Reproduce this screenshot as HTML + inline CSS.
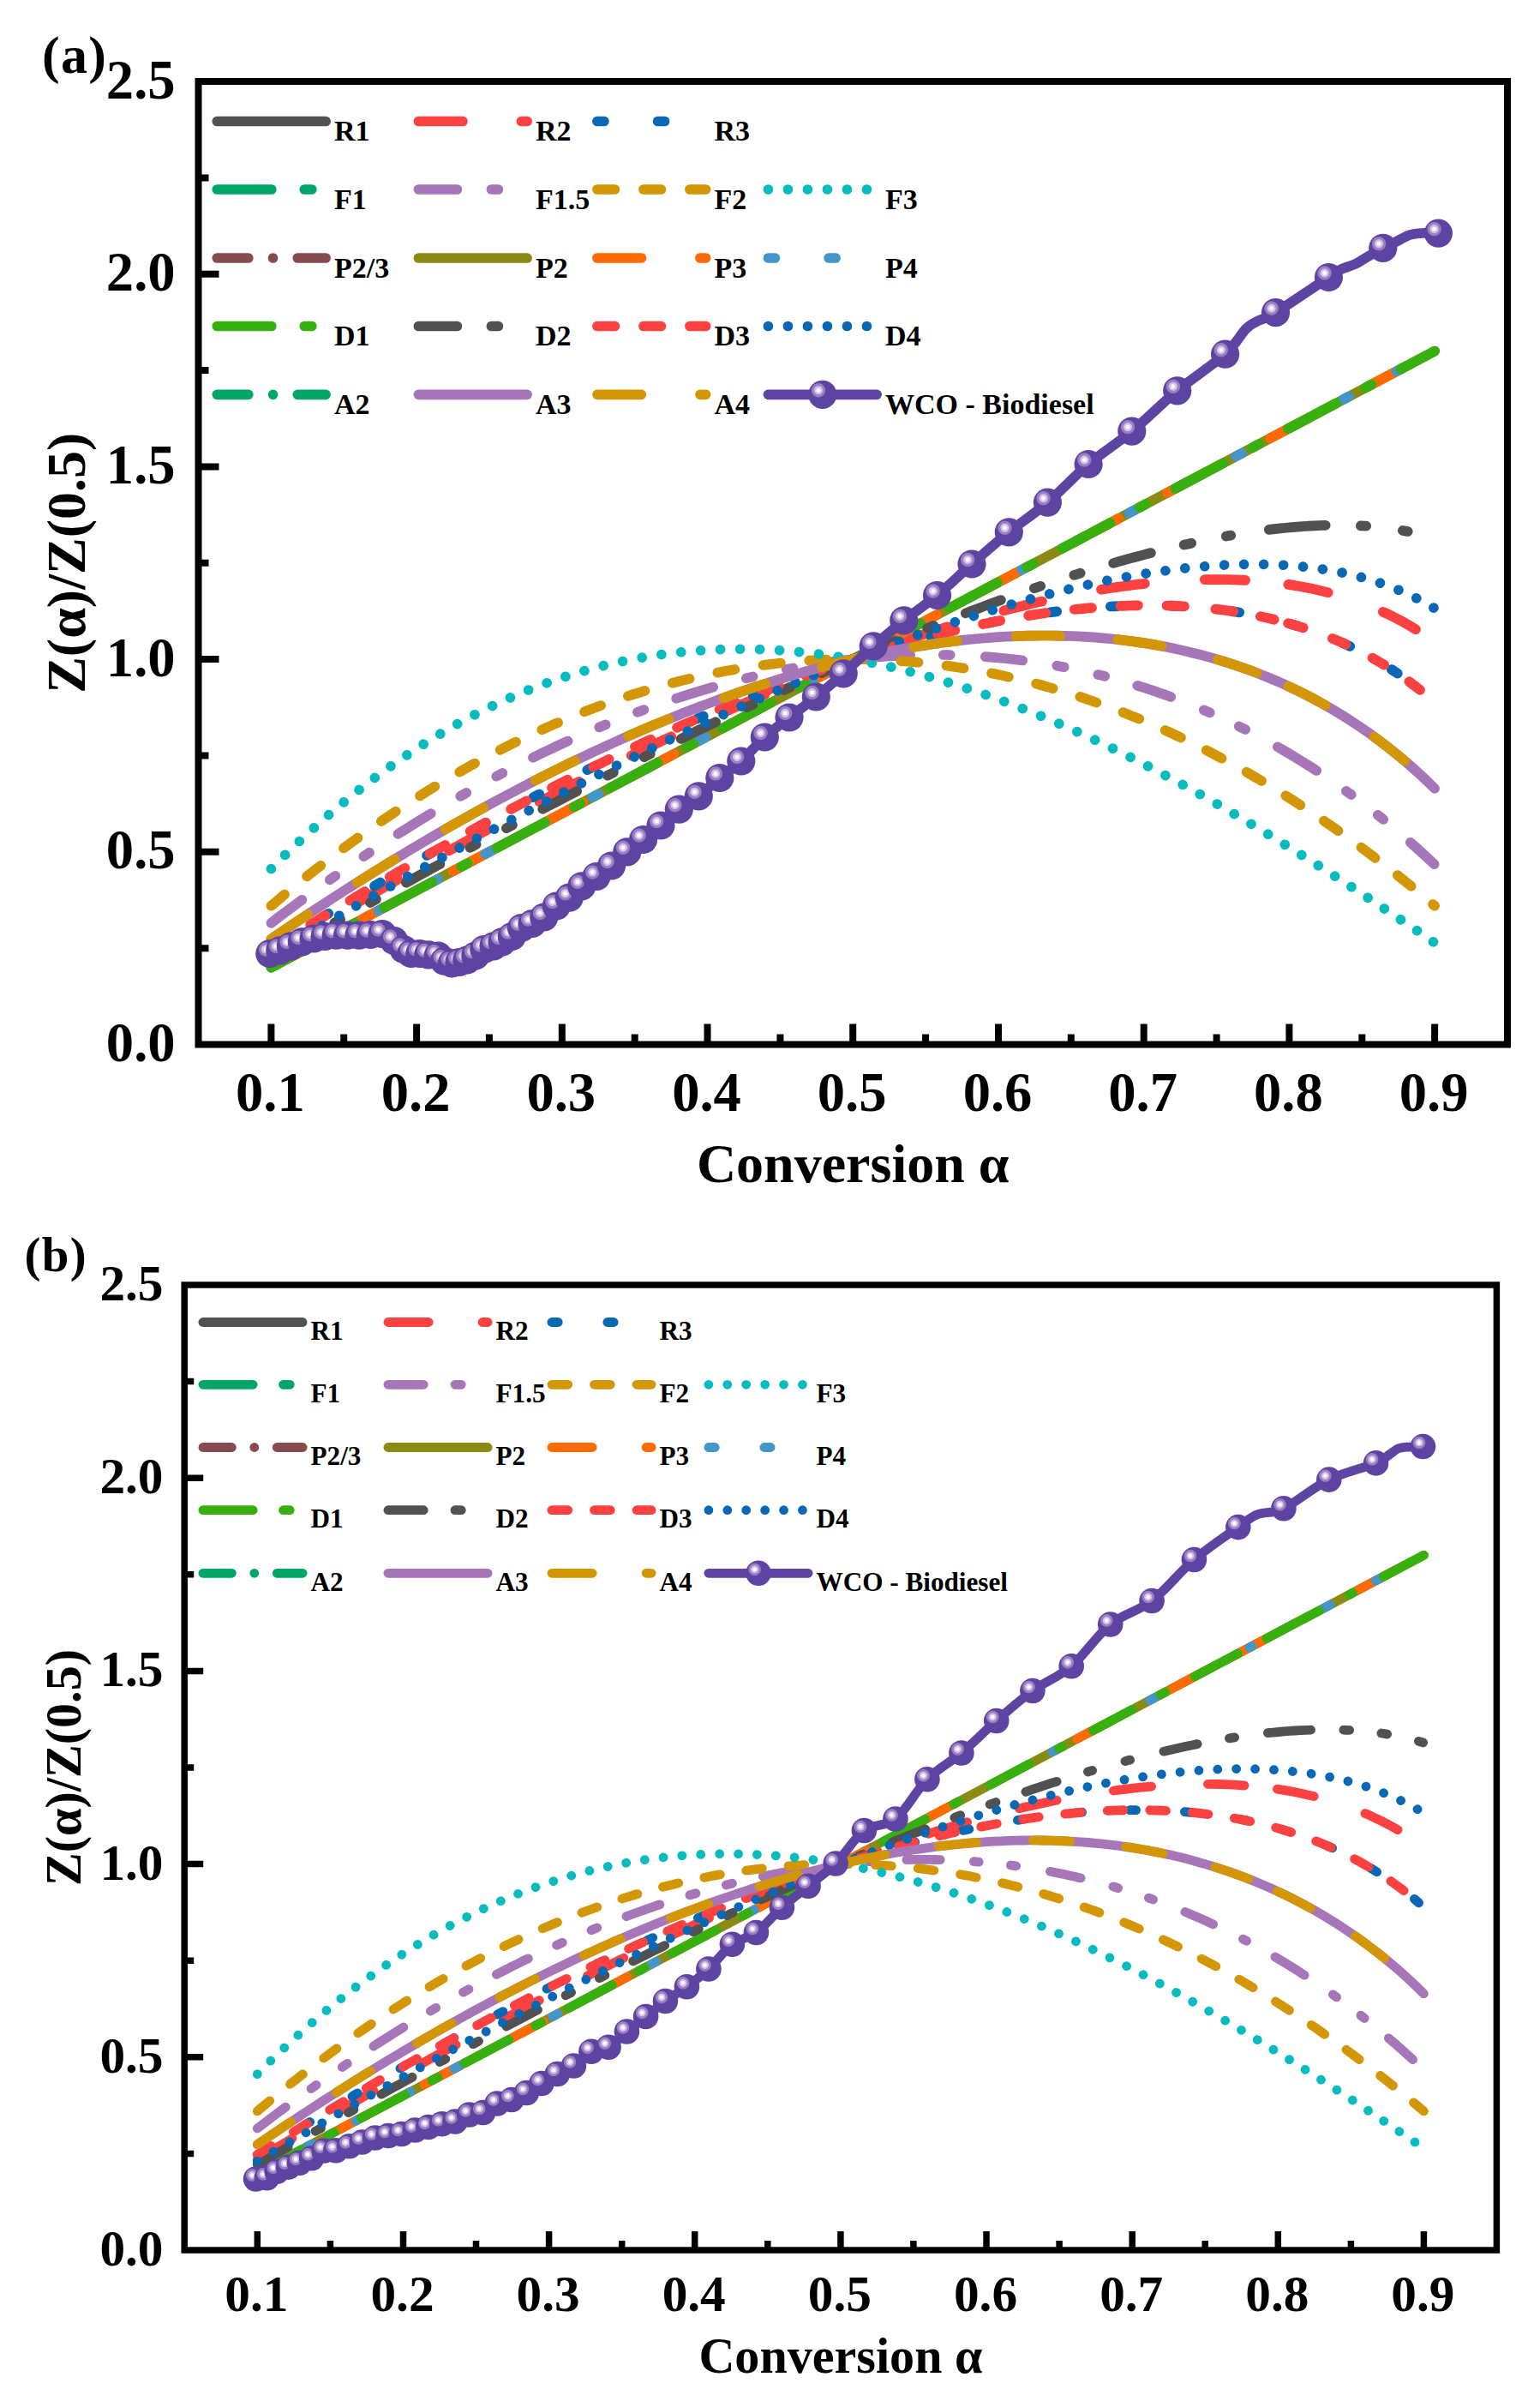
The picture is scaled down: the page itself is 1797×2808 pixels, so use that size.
<!DOCTYPE html>
<html lang="en"><head><meta charset="utf-8"><title>Master plots Z(α)/Z(0.5) – WCO Biodiesel</title>
<style>html,body{margin:0;padding:0;background:#fff}svg{display:block}text{font-family:"Liberation Serif","Times New Roman",Times,serif;font-weight:700;fill:#000}</style></head><body>
<svg width="1797" height="2808" viewBox="0 0 1797 2808">
<defs><radialGradient id="sphA" cx="0.3554" cy="0.3494" r="0.7088" fx="0.3554" fy="0.3494"><stop offset="0.0000" stop-color="#FFFFFF"/><stop offset="0.0838" stop-color="#FFFFFF"/><stop offset="0.1190" stop-color="#DACAE8"/><stop offset="0.1940" stop-color="#D2BEE3"/><stop offset="0.2293" stop-color="#A183C6"/><stop offset="0.3263" stop-color="#9A7ABF"/><stop offset="0.3660" stop-color="#5D44A2"/><stop offset="1.0000" stop-color="#5D44A2"/></radialGradient><radialGradient id="sphB" cx="0.3514" cy="0.3480" r="0.7126" fx="0.3514" fy="0.3480"><stop offset="0.0000" stop-color="#FFFFFF"/><stop offset="0.0833" stop-color="#FFFFFF"/><stop offset="0.1184" stop-color="#DACAE8"/><stop offset="0.1929" stop-color="#D2BEE3"/><stop offset="0.2280" stop-color="#A183C6"/><stop offset="0.3245" stop-color="#9A7ABF"/><stop offset="0.3640" stop-color="#5D44A2"/><stop offset="1.0000" stop-color="#5D44A2"/></radialGradient></defs>
<rect width="1797" height="2808" fill="#fff"/>
<g>
<g fill="none" stroke-linecap="round" stroke-linejoin="round" stroke-width="11.7">
<path d="M316.4 1128.6 L1674.1 409.6" stroke="#515151" stroke-width="9.3"/>
<path d="M316.4 1112.9 L323.9 1108.3 L331.4 1103.8 L339 1099.2 L346.5 1094.7 L354.1 1090.2 L361.6 1085.7 L369.2 1081.2 L376.7 1076.8 L384.2 1072.3 L391.8 1067.9 L399.3 1063.5 L406.9 1059.1 L414.4 1054.7 L422 1050.3 L429.5 1045.9 L437.1 1041.6 L444.6 1037.2 L452.1 1032.9 L459.7 1028.6 L467.2 1024.3 L474.8 1020 L482.3 1015.7 L489.9 1011.5 L497.4 1007.2 L504.9 1003 L512.5 998.8 L520 994.6 L527.6 990.4 L535.1 986.3 L542.7 982.1 L550.2 978 L557.7 973.9 L565.3 969.8 L572.8 965.7 L580.4 961.7 L587.9 957.6 L595.5 953.6 L603 949.6 L610.5 945.6 L618.1 941.6 L625.6 937.6 L633.2 933.7 L640.7 929.8 L648.3 925.9 L655.8 922 L663.3 918.1 L670.9 914.2 L678.4 910.4 L686 906.6 L693.5 902.8 L701.1 899 L708.6 895.3 L716.2 891.5 L723.7 887.8 L731.2 884.1 L738.8 880.4 L746.3 876.8 L753.9 873.1 L761.4 869.5 L769 865.9 L776.5 862.3 L784 858.8 L791.6 855.3 L799.1 851.7 L806.7 848.3 L814.2 844.8 L821.8 841.4 L829.3 837.9 L836.8 834.5 L844.4 831.2 L851.9 827.8 L859.5 824.5 L867 821.2 L874.6 817.9 L882.1 814.7 L889.6 811.4 L897.2 808.2 L904.7 805.1 L912.3 801.9 L919.8 798.8 L927.4 795.7 L934.9 792.6 L942.4 789.6 L950 786.6 L957.5 783.6 L965.1 780.6 L972.6 777.7 L980.2 774.8 L987.7 771.9 L995.2 769.1" stroke="#FD4141" stroke-dasharray="51.5 68.5"/>
<path d="M995.2 769.1 L997 768.5 L998.7 767.8 L1000.4 767.2 L1002.1 766.5 L1003.8 765.9 L1005.6 765.3 L1007.3 764.6 L1009 764 L1010.7 763.4 L1012.4 762.7 L1014.2 762.1 L1015.9 761.5 L1017.6 760.9 L1019.3 760.2 L1021 759.6 L1022.8 759 L1024.5 758.4 L1026.2 757.8 L1027.9 757.2 L1029.6 756.5 L1031.4 755.9 L1033.1 755.3 L1034.8 754.7 L1036.5 754.1 L1038.2 753.5 L1040 752.9 L1041.7 752.3 L1043.4 751.7 L1045.1 751.1 L1046.8 750.5 L1048.6 749.9 L1050.3 749.3 L1052 748.7 L1053.7 748.2 L1055.4 747.6 L1057.2 747 L1058.9 746.4 L1060.6 745.8 L1062.3 745.2 L1064 744.7 L1065.7 744.1 L1067.5 743.5 L1069.2 742.9 L1070.9 742.4 L1072.6 741.8 L1074.3 741.2 L1076.1 740.7 L1077.8 740.1 L1079.5 739.5 L1081.2 739 L1082.9 738.4 L1084.7 737.9 L1086.4 737.3 L1088.1 736.8 L1089.8 736.2 L1091.5 735.7 L1093.3 735.1 L1095 734.6 L1096.7 734 L1098.4 733.5 L1100.1 733 L1101.9 732.4 L1103.6 731.9 L1105.3 731.3 L1107 730.8 L1108.7 730.3 L1110.5 729.8 L1112.2 729.2 L1113.9 728.7 L1115.6 728.2 L1117.3 727.7 L1119.1 727.2 L1120.8 726.6 L1122.5 726.1 L1124.2 725.6 L1125.9 725.1 L1127.6 724.6 L1129.4 724.1 L1131.1 723.6 L1132.8 723.1 L1134.5 722.6 L1136.2 722.1 L1138 721.6 L1139.7 721.1 L1141.4 720.6 L1143.1 720.1 L1144.8 719.6 L1146.6 719.2 L1148.3 718.7 L1150 718.2" stroke="#FD4141" stroke-dasharray="51.5 68.5" stroke-dashoffset="54.9"/>
<path d="M1171.3 712.4 L1177.7 710.7 L1184.1 709.1 L1190.5 707.5 L1196.8 706 L1203.2 704.4 L1209.6 702.9 L1216 701.5M1285 687.8 L1291.4 686.8 L1297.7 685.8 L1304.1 684.9 L1310.4 684 L1316.7 683.1 L1323.1 682.3 L1329.4 681.6 L1335.8 680.9M1405.8 676.2 L1412.6 676.1 L1419.4 676 L1426.1 676.1 L1432.9 676.2 L1439.6 676.3 L1446.4 676.6 L1453.2 676.9M1503.3 681.9 L1510 682.9 L1516.6 684.1 L1523.2 685.3 L1529.8 686.6 L1536.4 688 L1543 689.6 L1549.7 691.2M1613.8 713.8 L1620.2 716.7 L1626.5 719.9 L1632.9 723.2 L1639.2 726.7 L1645.6 730.3 L1652 734.2" stroke="#FD4141"/>
<path d="M316.4 1107.3 L323.9 1102.5 L331.4 1097.8 L339 1093.1 L346.5 1088.4 L354.1 1083.7 L361.6 1079 L369.2 1074.4 L376.7 1069.8 L384.2 1065.2 L391.8 1060.6 L399.3 1056 L406.9 1051.5 L414.4 1046.9 L422 1042.4 L429.5 1037.9 L437.1 1033.5 L444.6 1029 L452.1 1024.6 L459.7 1020.2 L467.2 1015.8 L474.8 1011.4 L482.3 1007.1 L489.9 1002.7 L497.4 998.4 L504.9 994.1 L512.5 989.9 L520 985.6 L527.6 981.4 L535.1 977.2 L542.7 973 L550.2 968.8 L557.7 964.7 L565.3 960.6 L572.8 956.5 L580.4 952.4 L587.9 948.3 L595.5 944.3 L603 940.3 L610.5 936.3 L618.1 932.4 L625.6 928.4 L633.2 924.5 L640.7 920.6 L648.3 916.7 L655.8 912.9 L663.3 909.1 L670.9 905.3 L678.4 901.5 L686 897.8 L693.5 894.1 L701.1 890.4 L708.6 886.7 L716.2 883.1 L723.7 879.5 L731.2 875.9 L738.8 872.3 L746.3 868.8 L753.9 865.3 L761.4 861.8 L769 858.3 L776.5 854.9 L784 851.5 L791.6 848.1 L799.1 844.8 L806.7 841.5 L814.2 838.2 L821.8 835 L829.3 831.7 L836.8 828.6 L844.4 825.4 L851.9 822.3 L859.5 819.2 L867 816.1 L874.6 813.1 L882.1 810.1 L889.6 807.1 L897.2 804.2 L904.7 801.2 L912.3 798.4 L919.8 795.5 L927.4 792.7 L934.9 790 L942.4 787.2 L950 784.5 L957.5 781.9 L965.1 779.2 L972.6 776.6 L980.2 774.1 L987.7 771.6 L995.2 769.1" stroke="#0868B6" stroke-dasharray="8 62.7"/>
<path d="M995.2 769.1 L997.5 768.4 L999.8 767.6 L1002.1 766.9 L1004.4 766.2 L1006.6 765.4 L1008.9 764.7 L1011.2 764 L1013.5 763.3 L1015.7 762.6 L1018 761.9 L1020.3 761.2 L1022.6 760.5 L1024.8 759.8 L1027.1 759.1 L1029.4 758.4 L1031.7 757.7 L1033.9 757 L1036.2 756.3 L1038.5 755.6 L1040.8 755 L1043 754.3 L1045.3 753.6 L1047.6 753 L1049.8 752.3 L1052.1 751.7 L1054.4 751 L1056.7 750.4 L1059 749.7 L1061.2 749.1 L1063.5 748.5 L1065.8 747.8 L1068 747.2 L1070.3 746.6 L1072.6 746 L1074.9 745.4 L1077.2 744.7 L1079.4 744.1 L1081.7 743.5 L1084 742.9 L1086.2 742.4 L1088.5 741.8 L1090.8 741.2 L1093.1 740.6 L1095.3 740 L1097.6 739.4 L1099.9 738.9 L1102.2 738.3 L1104.4 737.7 L1106.7 737.2 L1109 736.6 L1111.3 736.1 L1113.5 735.5 L1115.8 735 L1118.1 734.5 L1120.4 733.9 L1122.7 733.4 L1124.9 732.9 L1127.2 732.4 L1129.5 731.9 L1131.8 731.3 L1134 730.8 L1136.3 730.3 L1138.6 729.8 L1140.8 729.4 L1143.1 728.9 L1145.4 728.4 L1147.7 727.9 L1149.9 727.4 L1152.2 727 L1154.5 726.5 L1156.8 726 L1159.1 725.6 L1161.3 725.1 L1163.6 724.7 L1165.9 724.2 L1168.2 723.8 L1170.4 723.4 L1172.7 722.9 L1175 722.5 L1177.2 722.1 L1179.5 721.7 L1181.8 721.3 L1184.1 720.9 L1186.3 720.5 L1188.6 720.1 L1190.9 719.7 L1193.2 719.3 L1195.5 718.9 L1197.7 718.6 L1200 718.2" stroke="#0868B6" stroke-dasharray="8 62.7" stroke-dashoffset="46.5"/>
<path d="M1224.8 714.5 L1229 713.9 L1233.2 713.4M1295.8 707.5 L1299.9 707.3 L1304.1 707.1M1365.8 706.6 L1370 706.8 L1374.2 707M1437.8 713.2 L1442 713.8 L1446.2 714.5M1505.8 727.9 L1510 729.1 L1514.2 730.4M1566.8 750.1 L1571 752 L1575.2 754M1623.8 781 L1627.3 783.3 L1630.8 785.6" stroke="#0868B6"/>
<path d="M316.4 1095.5 L324.8 1089.8 L333.3 1084 L341.8 1078.3 L350.3 1072.6 L358.8 1067 L367.3 1061.4 L375.8 1055.8 L384.2 1050.3 L392.7 1044.8 L401.2 1039.4 L409.7 1034 L418.2 1028.6 L426.7 1023.3 L435.2 1018 L443.7 1012.7 L452.1 1007.5 L460.6 1002.3 L469.1 997.2 L477.6 992.1 L486.1 987 L494.6 982 L503.1 977 L511.5 972.1 L520 967.2 L528.5 962.3 L537 957.5 L545.5 952.8 L554 948 L562.5 943.4 L570.9 938.7 L579.4 934.1 L587.9 929.6 L596.4 925.1 L604.9 920.6 L613.4 916.2 L621.9 911.8 L630.3 907.5 L638.8 903.2 L647.3 898.9 L655.8 894.8 L664.3 890.6 L672.8 886.5 L681.3 882.4 L689.8 878.4 L698.2 874.5 L706.7 870.6 L715.2 866.7 L723.7 862.9 L732.2 859.1 L740.7 855.4 L749.2 851.7 L757.6 848.1 L766.1 844.6 L774.6 841.1 L783.1 837.6 L791.6 834.2 L800.1 830.8 L808.6 827.5 L817 824.3 L825.5 821.1 L834 817.9 L842.5 814.8 L851 811.8 L859.5 808.8 L868 805.9 L876.4 803 L884.9 800.2 L893.4 797.5 L901.9 794.8 L910.4 792.1 L918.9 789.6 L927.4 787 L935.8 784.6 L944.3 782.2 L952.8 779.8 L961.3 777.6 L969.8 775.4 L978.3 773.2 L986.8 771.1 L995.2 769.1 L1003.7 767.1 L1012.2 765.3 L1020.7 763.4 L1029.2 761.7 L1037.7 760 L1046.2 758.4 L1054.7 756.8 L1063.1 755.3 L1071.6 753.9 L1080.1 752.6 L1088.6 751.3 L1097.1 750.1 L1105.6 749 L1114.1 747.9 L1122.5 746.9 L1131 746 L1139.5 745.2 L1148 744.5 L1156.5 743.8 L1165 743.2 L1173.5 742.7 L1181.9 742.3 L1190.4 742 L1198.9 741.7 L1207.4 741.6 L1215.9 741.5 L1224.4 741.5 L1232.9 741.6 L1241.3 741.8 L1249.8 742 L1258.3 742.4 L1266.8 742.9 L1275.3 743.4 L1283.8 744.1 L1292.3 744.8 L1300.8 745.7 L1309.2 746.7 L1317.7 747.7 L1326.2 748.9 L1334.7 750.1 L1343.2 751.5 L1351.7 753 L1360.2 754.6 L1368.6 756.3 L1377.1 758.1 L1385.6 760.1 L1394.1 762.2 L1402.6 764.3 L1411.1 766.7 L1419.6 769.1 L1428 771.7 L1436.5 774.4 L1445 777.2 L1453.5 780.2 L1462 783.3 L1470.5 786.6 L1479 790 L1487.4 793.5 L1495.9 797.2 L1504.4 801.1 L1512.9 805.1 L1521.4 809.3 L1529.9 813.7 L1538.4 818.3 L1546.8 823 L1555.3 827.9 L1563.8 833 L1572.3 838.3 L1580.8 843.8 L1589.3 849.5 L1597.8 855.4 L1606.2 861.6 L1614.7 868 L1623.2 874.6 L1631.7 881.5 L1640.2 888.6 L1648.7 896 L1657.2 903.7 L1665.7 911.6 L1674.1 919.9" stroke="#00A568" stroke-dasharray="63.5 38.5 8.5 38.5" stroke-width="9.3"/>
<path d="M316.4 1076.8 L323.9 1071 L331.4 1065.3 L339 1059.7 L346.5 1054.1 L354.1 1048.5 L361.6 1043 L369.2 1037.6 L376.7 1032.2 L384.2 1026.8 L391.8 1021.5 L399.3 1016.2 L406.9 1011 L414.4 1005.9 L422 1000.8 L429.5 995.7 L437.1 990.7 L444.6 985.7 L452.1 980.8 L459.7 975.9 L467.2 971.1 L474.8 966.4 L482.3 961.7 L489.9 957 L497.4 952.4 L504.9 947.8 L512.5 943.3 L520 938.9 L527.6 934.5 L535.1 930.1 L542.7 925.8 L550.2 921.6 L557.7 917.4 L565.3 913.2 L572.8 909.1 L580.4 905.1 L587.9 901.1 L595.5 897.2 L603 893.3 L610.5 889.5 L618.1 885.7 L625.6 882 L633.2 878.3 L640.7 874.7 L648.3 871.1 L655.8 867.6 L663.3 864.2 L670.9 860.8 L678.4 857.4 L686 854.2 L693.5 850.9 L701.1 847.7 L708.6 844.6 L716.2 841.6 L723.7 838.6 L731.2 835.6 L738.8 832.7 L746.3 829.9 L753.9 827.1 L761.4 824.4 L769 821.7 L776.5 819.1 L784 816.5 L791.6 814 L799.1 811.6 L806.7 809.2 L814.2 806.9 L821.8 804.6 L829.3 802.4 L836.8 800.2 L844.4 798.1 L851.9 796.1 L859.5 794.1 L867 792.2 L874.6 790.4 L882.1 788.6 L889.6 786.9 L897.2 785.2 L904.7 783.6 L912.3 782 L919.8 780.5 L927.4 779.1 L934.9 777.8 L942.4 776.5 L950 775.2 L957.5 774 L965.1 772.9 L972.6 771.9 L980.2 770.9 L987.7 770 L995.2 769.1" stroke="#A676B8" stroke-dasharray="45 40 8 40 8 40"/>
<path d="M995.2 769.1 L995.3 769.1 L995.4 769.1 L995.4 769.1 L995.5 769.1 L995.5 769.1 L995.6 769.1 L995.6 769.1 L995.7 769.1 L995.7 769 L995.8 769 L995.8 769 L995.9 769 L995.9 769 L996 769 L996 769 L996.1 769 L996.1 769 L996.2 769 L996.3 769 L996.3 769 L996.4 769 L996.4 769 L996.5 769 L996.5 769 L996.6 769 L996.6 769 L996.7 768.9 L996.7 768.9 L996.8 768.9 L996.8 768.9 L996.9 768.9 L996.9 768.9 L997 768.9 L997 768.9 L997.1 768.9 L997.2 768.9 L997.2 768.9 L997.3 768.9 L997.3 768.9 L997.4 768.9 L997.4 768.9 L997.5 768.9 L997.5 768.9 L997.6 768.8 L997.6 768.8 L997.7 768.8 L997.7 768.8 L997.8 768.8 L997.8 768.8 L997.9 768.8 L997.9 768.8 L998 768.8 L998 768.8 L998.1 768.8 L998.2 768.8 L998.2 768.8 L998.3 768.8 L998.3 768.8 L998.4 768.8 L998.4 768.8 L998.5 768.8 L998.5 768.7 L998.6 768.7 L998.6 768.7 L998.7 768.7 L998.7 768.7 L998.8 768.7 L998.8 768.7 L998.9 768.7 L998.9 768.7 L999 768.7 L999.1 768.7 L999.1 768.7 L999.2 768.7 L999.2 768.7 L999.3 768.7 L999.3 768.7 L999.4 768.7 L999.4 768.7 L999.5 768.6 L999.5 768.6 L999.6 768.6 L999.6 768.6 L999.7 768.6 L999.7 768.6 L999.8 768.6 L999.8 768.6 L999.9 768.6 L999.9 768.6 L1000 768.6" stroke="#A676B8" stroke-dasharray="45 40 8 40 8 40" stroke-dashoffset="18"/>
<path d="M1017.9 766.9 L1024.2 766.4 L1030.5 765.9 L1036.8 765.5 L1043.2 765.2 L1049.5 764.8 L1055.8 764.6 L1062.2 764.3M1100.8 764 L1104.8 764 L1108.7 764.1M1149.8 766.1 L1156 766.6 L1162.2 767.1 L1168.4 767.7 L1174.6 768.3 L1180.8 769 L1187 769.7 L1193.2 770.5M1233.3 776.7 L1237.5 777.5 L1241.7 778.2M1281.3 787 L1285.3 787.9 L1289.2 788.9M1327.3 799.8 L1333.8 801.8 L1340.3 804 L1346.8 806.1 L1353.2 808.4 L1359.7 810.6 L1366.2 813M1404.8 828.4 L1408.2 829.9 L1411.7 831.4M1445.8 847.4 L1449.5 849.2 L1453.2 851M1490.8 871.3 L1497.3 875.1 L1503.8 878.9 L1510.3 882.7 L1516.7 886.7 L1523.2 890.7 L1529.7 894.8 L1536.2 899M1570.8 922.9 L1573.8 925 L1576.7 927.1M1607.8 950.9 L1611 953.4 L1614.2 956M1645.8 982.8 L1652.8 989 L1659.8 995.3 L1666.7 1001.7 L1673.7 1008.2" stroke="#A676B8"/>
<path d="M316.4 1056.7 L323.9 1050.4 L331.4 1044.1 L339 1037.9 L346.5 1031.7 L354.1 1025.6 L361.6 1019.6 L369.2 1013.7 L376.7 1007.9 L384.2 1002.1 L391.8 996.4 L399.3 990.7 L406.9 985.1 L414.4 979.6 L422 974.2 L429.5 968.8 L437.1 963.5 L444.6 958.3 L452.1 953.2 L459.7 948.1 L467.2 943.1 L474.8 938.2 L482.3 933.3 L489.9 928.5 L497.4 923.8 L504.9 919.1 L512.5 914.5 L520 910 L527.6 905.6 L535.1 901.2 L542.7 896.9 L550.2 892.7 L557.7 888.5 L565.3 884.5 L572.8 880.5 L580.4 876.5 L587.9 872.6 L595.5 868.8 L603 865.1 L610.5 861.5 L618.1 857.9 L625.6 854.4 L633.2 850.9 L640.7 847.5 L648.3 844.2 L655.8 841 L663.3 837.8 L670.9 834.8 L678.4 831.7 L686 828.8 L693.5 825.9 L701.1 823.1 L708.6 820.4 L716.2 817.7 L723.7 815.1 L731.2 812.6 L738.8 810.1 L746.3 807.8 L753.9 805.5 L761.4 803.2 L769 801.1 L776.5 799 L784 796.9 L791.6 795 L799.1 793.1 L806.7 791.3 L814.2 789.6 L821.8 787.9 L829.3 786.3 L836.8 784.8 L844.4 783.3 L851.9 781.9 L859.5 780.6 L867 779.4 L874.6 778.2 L882.1 777.1 L889.6 776.1 L897.2 775.1 L904.7 774.2 L912.3 773.4 L919.8 772.7 L927.4 772 L934.9 771.4 L942.4 770.8 L950 770.4 L957.5 770 L965.1 769.7 L972.6 769.4 L980.2 769.2 L987.7 769.1 L995.2 769.1" stroke="#D39705" stroke-dasharray="20.5 33.5"/>
<path d="M995.2 769.1 L1002.8 769.1 L1010.3 769.2 L1017.9 769.4 L1025.4 769.7 L1033 770 L1040.5 770.4 L1048.1 770.8 L1055.6 771.4 L1063.1 772 L1070.7 772.7 L1078.2 773.4 L1085.8 774.2 L1093.3 775.1 L1100.9 776.1 L1108.4 777.1 L1115.9 778.2 L1123.5 779.4 L1131 780.6 L1138.6 781.9 L1146.1 783.3 L1153.7 784.8 L1161.2 786.3 L1168.7 787.9 L1176.3 789.6 L1183.8 791.3 L1191.4 793.1 L1198.9 795 L1206.5 796.9 L1214 799 L1221.5 801.1 L1229.1 803.2 L1236.6 805.5 L1244.2 807.8 L1251.7 810.1 L1259.3 812.6 L1266.8 815.1 L1274.3 817.7 L1281.9 820.4 L1289.4 823.1 L1297 825.9 L1304.5 828.8 L1312.1 831.7 L1319.6 834.8 L1327.2 837.8 L1334.7 841 L1342.2 844.2 L1349.8 847.5 L1357.3 850.9 L1364.9 854.4 L1372.4 857.9 L1380 861.5 L1387.5 865.1 L1395 868.8 L1402.6 872.6 L1410.1 876.5 L1417.7 880.5 L1425.2 884.5 L1432.8 888.5 L1440.3 892.7 L1447.8 896.9 L1455.4 901.2 L1462.9 905.6 L1470.5 910 L1478 914.5 L1485.6 919.1 L1493.1 923.8 L1500.6 928.5 L1508.2 933.3 L1515.7 938.2 L1523.3 943.1 L1530.8 948.1 L1538.4 953.2 L1545.9 958.3 L1553.4 963.5 L1561 968.8 L1568.5 974.2 L1576.1 979.6 L1583.6 985.1 L1591.2 990.7 L1598.7 996.4 L1606.2 1002.1 L1613.8 1007.9 L1621.3 1013.7 L1628.9 1019.6 L1636.4 1025.6 L1644 1031.7 L1651.5 1037.9 L1659.1 1044.1 L1666.6 1050.4 L1674.1 1056.7" stroke="#D39705" stroke-dasharray="20.27 33.13" stroke-dashoffset="50.6"/>
<path d="M316.4 1013.6 L323.9 1006 L331.4 998.6 L339 991.3 L346.5 984.1 L354.1 977.1 L361.6 970.2 L369.2 963.4 L376.7 956.7 L384.2 950.1 L391.8 943.7 L399.3 937.4 L406.9 931.2 L414.4 925.1 L422 919.2 L429.5 913.4 L437.1 907.6 L444.6 902 L452.1 896.6 L459.7 891.2 L467.2 886 L474.8 880.8 L482.3 875.8 L489.9 870.9 L497.4 866.1 L504.9 861.5 L512.5 856.9 L520 852.5 L527.6 848.1 L535.1 843.9 L542.7 839.8 L550.2 835.7 L557.7 831.8 L565.3 828.1 L572.8 824.4 L580.4 820.8 L587.9 817.3 L595.5 813.9 L603 810.7 L610.5 807.5 L618.1 804.4 L625.6 801.5 L633.2 798.6 L640.7 795.9 L648.3 793.2 L655.8 790.7 L663.3 788.2 L670.9 785.9 L678.4 783.6 L686 781.4 L693.5 779.4 L701.1 777.4 L708.6 775.5 L716.2 773.8 L723.7 772.1 L731.2 770.5 L738.8 769 L746.3 767.6 L753.9 766.3 L761.4 765.1 L769 764 L776.5 762.9 L784 762 L791.6 761.1 L799.1 760.3 L806.7 759.6 L814.2 759 L821.8 758.5 L829.3 758.1 L836.8 757.8 L844.4 757.5 L851.9 757.3 L859.5 757.3 L867 757.2 L874.6 757.3 L882.1 757.5 L889.6 757.7 L897.2 758 L904.7 758.4 L912.3 758.9 L919.8 759.4 L927.4 760.1 L934.9 760.8 L942.4 761.6 L950 762.4 L957.5 763.3 L965.1 764.3 L972.6 765.4 L980.2 766.6 L987.7 767.8 L995.2 769.1" stroke="#06BCC0" stroke-dasharray="0.01 23"/>
<path d="M995.2 769.1 L1002.8 770.5 L1010.3 771.9 L1017.9 773.4 L1025.4 775 L1033 776.6 L1040.5 778.3 L1048.1 780.1 L1055.6 782 L1063.1 783.9 L1070.7 785.9 L1078.2 787.9 L1085.8 790 L1093.3 792.2 L1100.9 794.4 L1108.4 796.7 L1115.9 799.1 L1123.5 801.5 L1131 804 L1138.6 806.5 L1146.1 809.1 L1153.7 811.7 L1161.2 814.5 L1168.7 817.2 L1176.3 820.1 L1183.8 822.9 L1191.4 825.9 L1198.9 828.9 L1206.5 831.9 L1214 835 L1221.5 838.2 L1229.1 841.4 L1236.6 844.6 L1244.2 847.9 L1251.7 851.3 L1259.3 854.7 L1266.8 858.1 L1274.3 861.6 L1281.9 865.2 L1289.4 868.8 L1297 872.4 L1304.5 876.1 L1312.1 879.9 L1319.6 883.6 L1327.2 887.5 L1334.7 891.3 L1342.2 895.2 L1349.8 899.2 L1357.3 903.2 L1364.9 907.2 L1372.4 911.3 L1380 915.4 L1387.5 919.6 L1395 923.8 L1402.6 928 L1410.1 932.2 L1417.7 936.5 L1425.2 940.9 L1432.8 945.3 L1440.3 949.7 L1447.8 954.1 L1455.4 958.6 L1462.9 963.1 L1470.5 967.6 L1478 972.2 L1485.6 976.8 L1493.1 981.4 L1500.6 986.1 L1508.2 990.8 L1515.7 995.5 L1523.3 1000.2 L1530.8 1005 L1538.4 1009.8 L1545.9 1014.6 L1553.4 1019.4 L1561 1024.3 L1568.5 1029.2 L1576.1 1034.1 L1583.6 1039.1 L1591.2 1044 L1598.7 1049 L1606.2 1054 L1613.8 1059 L1621.3 1064.1 L1628.9 1069.1 L1636.4 1074.2 L1644 1079.3 L1651.5 1084.4 L1659.1 1089.6 L1666.6 1094.7 L1674.1 1099.9" stroke="#06BCC0" stroke-dasharray="0.01 23" stroke-dashoffset="0.5"/>
<path d="M316.4 1128.6 L1674.1 409.6" stroke="#864B4E" stroke-dasharray="36.5 28.75 0.01 28.75" stroke-width="9.3"/>
<path d="M316.4 1128.6 L1674.1 409.6" stroke="#8B8B14"/>
<path d="M316.4 1128.6 L1030 750.7" stroke="#FF6A05" stroke-dasharray="51.5 68.5"/>
<path d="M1048.6 740.8 L1092.9 717.4M1140.8 692 L1185.2 668.5M1260.8 628.4 L1305.2 605M1362.1 574.8 L1406.2 551.5M1482.1 511.3 L1526.2 488M1597.8 450 L1642.2 426.5" stroke="#FF6A05"/>
<path d="M316.4 1128.6 L995.2 769.1" stroke="#4496C8" stroke-dasharray="8 62.7"/>
<path d="M995.2 769.1 L1674.1 409.6" stroke="#4496C8" stroke-dasharray="8 62.7" stroke-dashoffset="59.9"/>
<path d="M316.4 1128.6 L995.2 769.1" stroke="#36B00E" stroke-dasharray="63.5 38.5 8.5 38.5"/>
<path d="M995.2 769.1 L1674.1 409.6" stroke="#36B00E" stroke-dasharray="63.5 38.5 8.5 38.5" stroke-dashoffset="21.5"/>
<path d="M316.4 1118.8 L323.9 1114.4 L331.4 1110.1 L339 1105.8 L346.5 1101.4 L354.1 1097.1 L361.6 1092.8 L369.2 1088.5 L376.7 1084.2 L384.2 1080 L391.8 1075.7 L399.3 1071.4 L406.9 1067.2 L414.4 1062.9 L422 1058.7 L429.5 1054.4 L437.1 1050.2 L444.6 1046 L452.1 1041.8 L459.7 1037.6 L467.2 1033.4 L474.8 1029.3 L482.3 1025.1 L489.9 1020.9 L497.4 1016.8 L504.9 1012.7 L512.5 1008.5 L520 1004.4 L527.6 1000.3 L535.1 996.2 L542.7 992.1 L550.2 988 L557.7 984 L565.3 979.9 L572.8 975.9 L580.4 971.8 L587.9 967.8 L595.5 963.8 L603 959.8 L610.5 955.8 L618.1 951.8 L625.6 947.8 L633.2 943.8 L640.7 939.9 L648.3 936 L655.8 932 L663.3 928.1 L670.9 924.2 L678.4 920.3 L686 916.4 L693.5 912.5 L701.1 908.7 L708.6 904.8 L716.2 901 L723.7 897.2 L731.2 893.4 L738.8 889.6 L746.3 885.8 L753.9 882 L761.4 878.3 L769 874.5 L776.5 870.8 L784 867.1 L791.6 863.4 L799.1 859.7 L806.7 856 L814.2 852.3 L821.8 848.7 L829.3 845 L836.8 841.4 L844.4 837.8 L851.9 834.2 L859.5 830.7 L867 827.1 L874.6 823.6 L882.1 820 L889.6 816.5 L897.2 813 L904.7 809.5 L912.3 806.1 L919.8 802.6 L927.4 799.2 L934.9 795.8 L942.4 792.4 L950 789 L957.5 785.6 L965.1 782.3 L972.6 779 L980.2 775.7 L987.7 772.4 L995.2 769.1" stroke="#515151" stroke-dasharray="45 40 8 40 8 40"/>
<path d="M995.2 769.1 L996.4 768.6 L997.6 768.1 L998.7 767.6 L999.9 767.1 L1001.1 766.6 L1002.2 766.1 L1003.4 765.6 L1004.6 765.1 L1005.7 764.6 L1006.9 764.1 L1008.1 763.6 L1009.2 763.1 L1010.4 762.6 L1011.5 762.1 L1012.7 761.6 L1013.9 761.1 L1015 760.6 L1016.2 760.1 L1017.4 759.6 L1018.5 759.1 L1019.7 758.6 L1020.9 758.1 L1022 757.7 L1023.2 757.2 L1024.3 756.7 L1025.5 756.2 L1026.7 755.7 L1027.8 755.2 L1029 754.7 L1030.2 754.2 L1031.3 753.7 L1032.5 753.2 L1033.7 752.8 L1034.8 752.3 L1036 751.8 L1037.2 751.3 L1038.3 750.8 L1039.5 750.3 L1040.6 749.8 L1041.8 749.4 L1043 748.9 L1044.1 748.4 L1045.3 747.9 L1046.5 747.4 L1047.6 746.9 L1048.8 746.5 L1050 746 L1051.1 745.5 L1052.3 745 L1053.4 744.5 L1054.6 744.1 L1055.8 743.6 L1056.9 743.1 L1058.1 742.6 L1059.3 742.1 L1060.4 741.7 L1061.6 741.2 L1062.8 740.7 L1063.9 740.2 L1065.1 739.8 L1066.2 739.3 L1067.4 738.8 L1068.6 738.4 L1069.7 737.9 L1070.9 737.4 L1072.1 736.9 L1073.2 736.5 L1074.4 736 L1075.6 735.5 L1076.7 735.1 L1077.9 734.6 L1079.1 734.1 L1080.2 733.7 L1081.4 733.2 L1082.5 732.7 L1083.7 732.3 L1084.9 731.8 L1086 731.3 L1087.2 730.9 L1088.4 730.4 L1089.5 729.9 L1090.7 729.5 L1091.9 729 L1093 728.6 L1094.2 728.1 L1095.3 727.6 L1096.5 727.2 L1097.7 726.7 L1098.8 726.3 L1100 725.8" stroke="#515151" stroke-dasharray="45 40 8 40 8 40" stroke-dashoffset="38.8"/>
<path d="M1126.8 715.4 L1133.7 712.8 L1140.5 710.2 L1147.4 707.6 L1154.2 705.1 L1161.1 702.6 L1167.9 700.1M1206.8 686.3 L1210.5 685.1 L1214.2 683.8M1253.3 670.9 L1257 669.8 L1260.7 668.6M1299.1 657 L1305.4 655.2 L1311.6 653.4 L1317.9 651.7 L1324.1 650 L1330.4 648.3 L1336.6 646.7 L1342.9 645M1381.6 635.6 L1385.9 634.7 L1390.2 633.7M1430.8 625.6 L1433.5 625.1 L1436.2 624.6M1480.8 617.9 L1487.4 617.1 L1494 616.4 L1500.6 615.7 L1507.2 615.1 L1513.8 614.6 L1520.3 614.1 L1526.9 613.7 L1533.5 613.3 L1540.1 613 L1546.7 612.8M1587.8 613.3 L1591 613.5 L1594.2 613.7M1636.8 618.9 L1639.8 619.4 L1642.7 620" stroke="#515151"/>
<path d="M316.4 1107.3 L323.9 1102.5 L331.4 1097.8 L339 1093.1 L346.5 1088.4 L354.1 1083.7 L361.6 1079 L369.2 1074.4 L376.7 1069.8 L384.2 1065.2 L391.8 1060.6 L399.3 1056 L406.9 1051.5 L414.4 1046.9 L422 1042.4 L429.5 1037.9 L437.1 1033.5 L444.6 1029 L452.1 1024.6 L459.7 1020.2 L467.2 1015.8 L474.8 1011.4 L482.3 1007.1 L489.9 1002.7 L497.4 998.4 L504.9 994.1 L512.5 989.9 L520 985.6 L527.6 981.4 L535.1 977.2 L542.7 973 L550.2 968.8 L557.7 964.7 L565.3 960.6 L572.8 956.5 L580.4 952.4 L587.9 948.3 L595.5 944.3 L603 940.3 L610.5 936.3 L618.1 932.4 L625.6 928.4 L633.2 924.5 L640.7 920.6 L648.3 916.7 L655.8 912.9 L663.3 909.1 L670.9 905.3 L678.4 901.5 L686 897.8 L693.5 894.1 L701.1 890.4 L708.6 886.7 L716.2 883.1 L723.7 879.5 L731.2 875.9 L738.8 872.3 L746.3 868.8 L753.9 865.3 L761.4 861.8 L769 858.3 L776.5 854.9 L784 851.5 L791.6 848.1 L799.1 844.8 L806.7 841.5 L814.2 838.2 L821.8 835 L829.3 831.7 L836.8 828.6 L844.4 825.4 L851.9 822.3 L859.5 819.2 L867 816.1 L874.6 813.1 L882.1 810.1 L889.6 807.1 L897.2 804.2 L904.7 801.2 L912.3 798.4 L919.8 795.5 L927.4 792.7 L934.9 790 L942.4 787.2 L950 784.5 L957.5 781.9 L965.1 779.2 L972.6 776.6 L980.2 774.1 L987.7 771.6 L995.2 769.1" stroke="#FD4141" stroke-dasharray="20.5 33.5"/>
<path d="M995.2 769.1 L999.7 767.6 L1004.2 766.2 L1008.7 764.8 L1013.2 763.3 L1017.7 761.9 L1022.2 760.5 L1026.7 759.2 L1031.2 757.8 L1035.7 756.5 L1040.2 755.1 L1044.7 753.8 L1049.2 752.5 L1053.7 751.2 L1058.2 749.9 L1062.7 748.7 L1067.2 747.4 L1071.7 746.2 L1076.2 745 L1080.7 743.8 L1085.2 742.6 L1089.7 741.5 L1094.2 740.3 L1098.7 739.2 L1103.2 738.1 L1107.7 737 L1112.2 735.9 L1116.7 734.8 L1121.2 733.8 L1125.7 732.7 L1130.2 731.7 L1134.7 730.7 L1139.2 729.7 L1143.7 728.7 L1148.2 727.8 L1152.7 726.9 L1157.2 726 L1161.6 725.1 L1166.1 724.2 L1170.6 723.3 L1175.1 722.5 L1179.6 721.7 L1184.1 720.9 L1188.6 720.1 L1193.1 719.3 L1197.6 718.6 L1202.1 717.8 L1206.6 717.1 L1211.1 716.5 L1215.6 715.8 L1220.1 715.1 L1224.6 714.5 L1229.1 713.9 L1233.6 713.3 L1238.1 712.8 L1242.6 712.2 L1247.1 711.7 L1251.6 711.2 L1256.1 710.7 L1260.6 710.3 L1265.1 709.9 L1269.6 709.4 L1274.1 709.1 L1278.6 708.7 L1283.1 708.4 L1287.6 708 L1292.1 707.8 L1296.6 707.5 L1301.1 707.2 L1305.6 707 L1310.1 706.8 L1314.6 706.7 L1319.1 706.5 L1323.5 706.4 L1328 706.3 L1332.5 706.3 L1337 706.2 L1341.5 706.2 L1346 706.2 L1350.5 706.3 L1355 706.3 L1359.5 706.4 L1364 706.6 L1368.5 706.7 L1373 706.9 L1377.5 707.1 L1382 707.4 L1386.5 707.7 L1391 708 L1395.5 708.3 L1400 708.7" stroke="#FD4141" stroke-dasharray="20.5 33.5" stroke-dashoffset="4.6"/>
<path d="M1418.3 710.6 L1425.3 711.4 L1432.2 712.3 L1439.2 713.4M1470.8 719.1 L1478.8 720.9 L1486.7 722.8M1503.1 727.1 L1511.9 729.7 L1520.7 732.4M1554.8 744.9 L1562.6 748.2 L1570.4 751.7M1601.5 767.6 L1608.3 771.5 L1615.2 775.6M1644.3 795.2 L1650.7 800 L1657.1 804.9" stroke="#FD4141"/>
<path d="M316.4 1114.9 L323.9 1110.4 L331.4 1106 L339 1101.5 L346.5 1097 L354.1 1092.6 L361.6 1088.2 L369.2 1083.8 L376.7 1079.4 L384.2 1075 L391.8 1070.6 L399.3 1066.2 L406.9 1061.9 L414.4 1057.5 L422 1053.2 L429.5 1048.9 L437.1 1044.6 L444.6 1040.3 L452.1 1036 L459.7 1031.7 L467.2 1027.4 L474.8 1023.2 L482.3 1019 L489.9 1014.8 L497.4 1010.5 L504.9 1006.4 L512.5 1002.2 L520 998 L527.6 993.9 L535.1 989.7 L542.7 985.6 L550.2 981.5 L557.7 977.4 L565.3 973.3 L572.8 969.2 L580.4 965.2 L587.9 961.1 L595.5 957.1 L603 953.1 L610.5 949.1 L618.1 945.1 L625.6 941.1 L633.2 937.2 L640.7 933.3 L648.3 929.3 L655.8 925.4 L663.3 921.5 L670.9 917.7 L678.4 913.8 L686 910 L693.5 906.2 L701.1 902.4 L708.6 898.6 L716.2 894.8 L723.7 891 L731.2 887.3 L738.8 883.6 L746.3 879.9 L753.9 876.2 L761.4 872.5 L769 868.9 L776.5 865.3 L784 861.6 L791.6 858.1 L799.1 854.5 L806.7 850.9 L814.2 847.4 L821.8 843.9 L829.3 840.4 L836.8 836.9 L844.4 833.5 L851.9 830 L859.5 826.6 L867 823.2 L874.6 819.9 L882.1 816.5 L889.6 813.2 L897.2 809.9 L904.7 806.6 L912.3 803.3 L919.8 800.1 L927.4 796.9 L934.9 793.7 L942.4 790.6 L950 787.4 L957.5 784.3 L965.1 781.2 L972.6 778.1 L980.2 775.1 L987.7 772.1 L995.2 769.1" stroke="#0868B6" stroke-dasharray="0.01 23"/>
<path d="M995.2 769.1 L1002.8 766.1 L1010.3 763.2 L1017.9 760.3 L1025.4 757.4 L1033 754.6 L1040.5 751.7 L1048.1 748.9 L1055.6 746.2 L1063.1 743.4 L1070.7 740.7 L1078.2 738.1 L1085.8 735.4 L1093.3 732.8 L1100.9 730.2 L1108.4 727.7 L1115.9 725.2 L1123.5 722.7 L1131 720.2 L1138.6 717.8 L1146.1 715.5 L1153.7 713.1 L1161.2 710.8 L1168.7 708.5 L1176.3 706.3 L1183.8 704.1 L1191.4 702 L1198.9 699.8 L1206.5 697.8 L1214 695.7 L1221.5 693.7 L1229.1 691.8 L1236.6 689.9 L1244.2 688 L1251.7 686.2 L1259.3 684.4 L1266.8 682.7 L1274.3 681 L1281.9 679.4 L1289.4 677.8 L1297 676.3 L1304.5 674.8 L1312.1 673.4 L1319.6 672.1 L1327.2 670.7 L1334.7 669.5 L1342.2 668.3 L1349.8 667.1 L1357.3 666.1 L1364.9 665.1 L1372.4 664.1 L1380 663.2 L1387.5 662.4 L1395 661.6 L1402.6 661 L1410.1 660.3 L1417.7 659.8 L1425.2 659.3 L1432.8 659 L1440.3 658.7 L1447.8 658.4 L1455.4 658.3 L1462.9 658.3 L1470.5 658.3 L1478 658.4 L1485.6 658.7 L1493.1 659 L1500.6 659.4 L1508.2 660 L1515.7 660.6 L1523.3 661.4 L1530.8 662.3 L1538.4 663.3 L1545.9 664.4 L1553.4 665.7 L1561 667.1 L1568.5 668.6 L1576.1 670.3 L1583.6 672.2 L1591.2 674.2 L1598.7 676.4 L1606.2 678.7 L1613.8 681.3 L1621.3 684 L1628.9 687 L1636.4 690.1 L1644 693.5 L1651.5 697.2 L1659.1 701.1 L1666.6 705.3 L1674.1 709.8" stroke="#0868B6" stroke-dasharray="0.01 23" stroke-dashoffset="11.2"/>
<path d="M316.4 1095.5 L324.8 1089.8 L333.3 1084 L341.8 1078.3 L350.3 1072.6 L358.8 1067 L367.3 1061.4 L375.8 1055.8 L384.2 1050.3 L392.7 1044.8 L401.2 1039.4 L409.7 1034 L418.2 1028.6 L426.7 1023.3 L435.2 1018 L443.7 1012.7 L452.1 1007.5 L460.6 1002.3 L469.1 997.2 L477.6 992.1 L486.1 987 L494.6 982 L503.1 977 L511.5 972.1 L520 967.2 L528.5 962.3 L537 957.5 L545.5 952.8 L554 948 L562.5 943.4 L570.9 938.7 L579.4 934.1 L587.9 929.6 L596.4 925.1 L604.9 920.6 L613.4 916.2 L621.9 911.8 L630.3 907.5 L638.8 903.2 L647.3 898.9 L655.8 894.8 L664.3 890.6 L672.8 886.5 L681.3 882.4 L689.8 878.4 L698.2 874.5 L706.7 870.6 L715.2 866.7 L723.7 862.9 L732.2 859.1 L740.7 855.4 L749.2 851.7 L757.6 848.1 L766.1 844.6 L774.6 841.1 L783.1 837.6 L791.6 834.2 L800.1 830.8 L808.6 827.5 L817 824.3 L825.5 821.1 L834 817.9 L842.5 814.8 L851 811.8 L859.5 808.8 L868 805.9 L876.4 803 L884.9 800.2 L893.4 797.5 L901.9 794.8 L910.4 792.1 L918.9 789.6 L927.4 787 L935.8 784.6 L944.3 782.2 L952.8 779.8 L961.3 777.6 L969.8 775.4 L978.3 773.2 L986.8 771.1 L995.2 769.1 L1003.7 767.1 L1012.2 765.3 L1020.7 763.4 L1029.2 761.7 L1037.7 760 L1046.2 758.4 L1054.7 756.8 L1063.1 755.3 L1071.6 753.9 L1080.1 752.6 L1088.6 751.3 L1097.1 750.1 L1105.6 749 L1114.1 747.9 L1122.5 746.9 L1131 746 L1139.5 745.2 L1148 744.5 L1156.5 743.8 L1165 743.2 L1173.5 742.7 L1181.9 742.3 L1190.4 742 L1198.9 741.7 L1207.4 741.6 L1215.9 741.5 L1224.4 741.5 L1232.9 741.6 L1241.3 741.8 L1249.8 742 L1258.3 742.4 L1266.8 742.9 L1275.3 743.4 L1283.8 744.1 L1292.3 744.8 L1300.8 745.7 L1309.2 746.7 L1317.7 747.7 L1326.2 748.9 L1334.7 750.1 L1343.2 751.5 L1351.7 753 L1360.2 754.6 L1368.6 756.3 L1377.1 758.1 L1385.6 760.1 L1394.1 762.2 L1402.6 764.3 L1411.1 766.7 L1419.6 769.1 L1428 771.7 L1436.5 774.4 L1445 777.2 L1453.5 780.2 L1462 783.3 L1470.5 786.6 L1479 790 L1487.4 793.5 L1495.9 797.2 L1504.4 801.1 L1512.9 805.1 L1521.4 809.3 L1529.9 813.7 L1538.4 818.3 L1546.8 823 L1555.3 827.9 L1563.8 833 L1572.3 838.3 L1580.8 843.8 L1589.3 849.5 L1597.8 855.4 L1606.2 861.6 L1614.7 868 L1623.2 874.6 L1631.7 881.5 L1640.2 888.6 L1648.7 896 L1657.2 903.7 L1665.7 911.6 L1674.1 919.9" stroke="#00A568" stroke-dasharray="36.5 28.75 0.01 28.75" stroke-width="9.3"/>
<path d="M316.4 1095.5 L324.8 1089.8 L333.3 1084 L341.8 1078.3 L350.3 1072.6 L358.8 1067 L367.3 1061.4 L375.8 1055.8 L384.2 1050.3 L392.7 1044.8 L401.2 1039.4 L409.7 1034 L418.2 1028.6 L426.7 1023.3 L435.2 1018 L443.7 1012.7 L452.1 1007.5 L460.6 1002.3 L469.1 997.2 L477.6 992.1 L486.1 987 L494.6 982 L503.1 977 L511.5 972.1 L520 967.2 L528.5 962.3 L537 957.5 L545.5 952.8 L554 948 L562.5 943.4 L570.9 938.7 L579.4 934.1 L587.9 929.6 L596.4 925.1 L604.9 920.6 L613.4 916.2 L621.9 911.8 L630.3 907.5 L638.8 903.2 L647.3 898.9 L655.8 894.8 L664.3 890.6 L672.8 886.5 L681.3 882.4 L689.8 878.4 L698.2 874.5 L706.7 870.6 L715.2 866.7 L723.7 862.9 L732.2 859.1 L740.7 855.4 L749.2 851.7 L757.6 848.1 L766.1 844.6 L774.6 841.1 L783.1 837.6 L791.6 834.2 L800.1 830.8 L808.6 827.5 L817 824.3 L825.5 821.1 L834 817.9 L842.5 814.8 L851 811.8 L859.5 808.8 L868 805.9 L876.4 803 L884.9 800.2 L893.4 797.5 L901.9 794.8 L910.4 792.1 L918.9 789.6 L927.4 787 L935.8 784.6 L944.3 782.2 L952.8 779.8 L961.3 777.6 L969.8 775.4 L978.3 773.2 L986.8 771.1 L995.2 769.1 L1003.7 767.1 L1012.2 765.3 L1020.7 763.4 L1029.2 761.7 L1037.7 760 L1046.2 758.4 L1054.7 756.8 L1063.1 755.3 L1071.6 753.9 L1080.1 752.6 L1088.6 751.3 L1097.1 750.1 L1105.6 749 L1114.1 747.9 L1122.5 746.9 L1131 746 L1139.5 745.2 L1148 744.5 L1156.5 743.8 L1165 743.2 L1173.5 742.7 L1181.9 742.3 L1190.4 742 L1198.9 741.7 L1207.4 741.6 L1215.9 741.5 L1224.4 741.5 L1232.9 741.6 L1241.3 741.8 L1249.8 742 L1258.3 742.4 L1266.8 742.9 L1275.3 743.4 L1283.8 744.1 L1292.3 744.8 L1300.8 745.7 L1309.2 746.7 L1317.7 747.7 L1326.2 748.9 L1334.7 750.1 L1343.2 751.5 L1351.7 753 L1360.2 754.6 L1368.6 756.3 L1377.1 758.1 L1385.6 760.1 L1394.1 762.2 L1402.6 764.3 L1411.1 766.7 L1419.6 769.1 L1428 771.7 L1436.5 774.4 L1445 777.2 L1453.5 780.2 L1462 783.3 L1470.5 786.6 L1479 790 L1487.4 793.5 L1495.9 797.2 L1504.4 801.1 L1512.9 805.1 L1521.4 809.3 L1529.9 813.7 L1538.4 818.3 L1546.8 823 L1555.3 827.9 L1563.8 833 L1572.3 838.3 L1580.8 843.8 L1589.3 849.5 L1597.8 855.4 L1606.2 861.6 L1614.7 868 L1623.2 874.6 L1631.7 881.5 L1640.2 888.6 L1648.7 896 L1657.2 903.7 L1665.7 911.6 L1674.1 919.9" stroke="#A676B8"/>
<path d="M316.4 1095.5 L323.9 1090.4 L331.4 1085.3 L339 1080.2 L346.5 1075.1 L354.1 1070.1 L361.6 1065.1 L369.2 1060.2 L376.7 1055.2 L384.2 1050.3 L391.8 1045.4 L399.3 1040.6 L406.9 1035.8 L414.4 1031 L422 1026.2 L429.5 1021.5 L437.1 1016.8 L444.6 1012.1 L452.1 1007.5 L459.7 1002.9 L467.2 998.3 L474.8 993.8 L482.3 989.3 L489.9 984.8 L497.4 980.3 L504.9 975.9 L512.5 971.5 L520 967.2 L527.6 962.9 L535.1 958.6 L542.7 954.4 L550.2 950.1 L557.7 946 L565.3 941.8 L572.8 937.7 L580.4 933.6 L587.9 929.6 L595.5 925.6 L603 921.6 L610.5 917.6 L618.1 913.7 L625.6 909.9 L633.2 906 L640.7 902.2 L648.3 898.5 L655.8 894.8 L663.3 891.1 L670.9 887.4 L678.4 883.8 L686 880.2 L693.5 876.7 L701.1 873.2 L708.6 869.7 L716.2 866.3 L723.7 862.9 L731.2 859.5 L738.8 856.2 L746.3 853 L753.9 849.7 L761.4 846.5 L769 843.4 L776.5 840.3 L784 837.2 L791.6 834.2 L799.1 831.2 L806.7 828.2 L814.2 825.3 L821.8 822.5 L829.3 819.7 L836.8 816.9 L844.4 814.2 L851.9 811.5 L859.5 808.8 L867 806.2 L874.6 803.7 L882.1 801.1 L889.6 798.7 L897.2 796.3 L904.7 793.9 L912.3 791.6 L919.8 789.3 L927.4 787 L934.9 784.8 L942.4 782.7 L950 780.6 L957.5 778.6 L965.1 776.6 L972.6 774.6 L980.2 772.7 L987.7 770.9 L995.2 769.1" stroke="#D39705" stroke-dasharray="51.5 68.5"/>
<path d="M995.2 769.1 L997.1 768.7 L998.9 768.2 L1000.7 767.8 L1002.6 767.4 L1004.4 767 L1006.2 766.6 L1008.1 766.2 L1009.9 765.8 L1011.7 765.4 L1013.6 765 L1015.4 764.6 L1017.2 764.2 L1019 763.8 L1020.9 763.4 L1022.7 763 L1024.5 762.6 L1026.4 762.2 L1028.2 761.9 L1030 761.5 L1031.9 761.1 L1033.7 760.8 L1035.5 760.4 L1037.4 760 L1039.2 759.7 L1041 759.3 L1042.8 759 L1044.7 758.6 L1046.5 758.3 L1048.3 758 L1050.2 757.6 L1052 757.3 L1053.8 756.9 L1055.7 756.6 L1057.5 756.3 L1059.3 756 L1061.2 755.7 L1063 755.3 L1064.8 755 L1066.6 754.7 L1068.5 754.4 L1070.3 754.1 L1072.1 753.8 L1074 753.5 L1075.8 753.2 L1077.6 752.9 L1079.5 752.7 L1081.3 752.4 L1083.1 752.1 L1084.9 751.8 L1086.8 751.6 L1088.6 751.3 L1090.4 751 L1092.3 750.8 L1094.1 750.5 L1095.9 750.3 L1097.8 750 L1099.6 749.8 L1101.4 749.5 L1103.3 749.3 L1105.1 749 L1106.9 748.8 L1108.7 748.6 L1110.6 748.3 L1112.4 748.1 L1114.2 747.9 L1116.1 747.7 L1117.9 747.5 L1119.7 747.3 L1121.6 747.1 L1123.4 746.9 L1125.2 746.7 L1127 746.5 L1128.9 746.3 L1130.7 746.1 L1132.5 745.9 L1134.4 745.7 L1136.2 745.5 L1138 745.4 L1139.9 745.2 L1141.7 745 L1143.5 744.9 L1145.4 744.7 L1147.2 744.6 L1149 744.4 L1150.8 744.3 L1152.7 744.1 L1154.5 744 L1156.3 743.8 L1158.2 743.7 L1160 743.6" stroke="#D39705" stroke-dasharray="51.5 68.5" stroke-dashoffset="47.6"/>
<path d="M1185.4 742.2 L1191.9 741.9 L1198.4 741.7 L1204.8 741.6 L1211.3 741.5 L1217.8 741.5 L1224.2 741.5 L1230.7 741.6 L1237.2 741.7M1304.1 746.1 L1310.6 746.8 L1317 747.6 L1323.4 748.5 L1329.8 749.4 L1336.2 750.4 L1342.6 751.4 L1349 752.5 L1355.5 753.7M1420.8 769.5 L1427.4 771.5 L1433.9 773.5 L1440.5 775.7 L1447 777.9 L1453.6 780.2 L1460.1 782.6 L1466.7 785.1M1503.3 800.6 L1509.5 803.5 L1515.7 806.5 L1521.9 809.6 L1528.1 812.8 L1534.3 816 L1540.5 819.4 L1546.7 822.9M1603.3 859.5 L1610.5 864.8 L1617.7 870.2 L1624.8 875.9 L1632 881.7 L1639.2 887.7" stroke="#D39705"/>
<path d="M314.8 1112.5 C316.8 1111.9 322.7 1110.2 326.8 1108.8 C330.9 1107.3 335.1 1105.4 339.3 1103.8 C343.6 1102.1 347.8 1100.2 352.3 1098.8 C356.8 1097.3 361.6 1096 366.1 1095 C370.5 1094 374.7 1093.1 379.1 1092.5 C383.4 1091.9 387.9 1091.5 392.3 1091.2 C396.7 1091 401.1 1091.2 405.6 1091.2 C410 1091.2 414.6 1091.4 419.1 1091.2 C423.5 1091.1 427.8 1090.8 432.3 1090.5 C436.8 1090.2 441.5 1088.3 446.1 1089.5 C450.6 1090.7 455.6 1094.5 459.8 1097.5 C464 1100.5 467.7 1105 471.1 1107.5 C474.4 1110 476.7 1111.7 479.8 1112.5 C482.9 1113.3 486.5 1112.3 489.8 1112.5 C493.1 1112.7 496.3 1113.3 499.8 1113.8 C503.3 1114.2 507.9 1113.8 511.1 1115 C514.2 1116.2 515.8 1119.8 518.5 1121.2 C521.3 1122.7 524.4 1123.5 527.3 1123.8 C530.2 1124 533.1 1123.1 536 1122.5 C539 1121.9 541.7 1121.2 544.8 1120 C547.9 1118.8 551.5 1117.1 554.8 1115 C558.1 1112.9 561.3 1109.4 564.8 1107.5 C568.3 1105.6 572.5 1105.2 576 1103.8 C579.6 1102.3 582.5 1100.6 586 1098.8 C589.6 1096.9 593.5 1095.2 597.3 1092.5 C601 1089.8 604.6 1085 608.5 1082.5 C612.5 1080 616.7 1079.6 621 1077.5 C625.4 1075.4 630.1 1073.4 634.8 1070 C639.5 1066.6 644.4 1060.8 649.3 1057 C654.2 1053.2 659.4 1051.1 664.3 1047.2 C669.2 1043.3 673.5 1037.9 678.8 1033.8 C684.1 1029.6 690.3 1026.5 696 1022.5 C701.8 1018.5 707.6 1014.8 713.5 1010 C719.5 1005.2 725.6 998.8 731.8 993.8 C738 988.7 744 984.6 750.5 979.5 C757.1 974.4 764.1 968.9 771 963 C778 957.1 784.9 950 792.3 944.2 C799.7 938.5 807.4 934.9 815.3 928.8 C823.2 922.6 831.5 914.3 839.8 907.5 C848 900.7 856 895.9 864.8 888 C873.5 880.1 882.9 868.5 892.3 860 C901.7 851.5 911 844.8 921 837 C931 829.2 941.8 821.5 952.3 813 C962.8 804.5 973 795.6 984.2 785.8 C995.3 775.9 1007.4 764.1 1019.2 753.8 C1031 743.4 1042.4 733.6 1054.8 723.8 C1067.2 713.9 1080.3 705.5 1093.5 694.5 C1106.8 683.5 1120.1 670.3 1134 658 C1148 645.7 1162.6 632.7 1177.3 620.8 C1192 608.8 1206.9 599.4 1222.4 586.2 C1237.9 573 1253.7 555.4 1270.1 541.5 C1286.5 527.6 1303.5 517.4 1320.8 503.1 C1338.1 488.8 1355.6 470.8 1373.7 455.8 C1391.8 440.8 1416.2 425.2 1429.6 413.2 C1443 401.1 1447.5 390 1454 383.5 C1460.5 377 1462.8 377.3 1468.6 374.2 C1474.3 371.1 1474.9 373.1 1488.5 364.6 C1502.1 356.2 1537.8 331.9 1550.4 323.5 C1563 315.1 1559.1 317 1564.2 314.5 C1569.3 312 1575.3 310.9 1580.8 308.3 C1586.3 305.7 1591.9 301.8 1597.4 298.6 C1602.9 295.4 1608.6 292 1613.8 289.3 C1619 286.6 1623.4 284.9 1628.6 282.3 C1633.8 279.8 1639.7 275.7 1645.2 274 C1650.7 272.3 1656.3 272.2 1661.8 271.9 C1667.3 271.6 1675.6 272.1 1678.4 272.2" stroke="#5D44A2"/>
</g>
<g fill="url(#sphA)">
<circle cx="314.8" cy="1112.5" r="16.6"/>
<circle cx="326.8" cy="1108.8" r="16.6"/>
<circle cx="339.3" cy="1103.8" r="16.6"/>
<circle cx="352.3" cy="1098.8" r="16.6"/>
<circle cx="366.1" cy="1095" r="16.6"/>
<circle cx="379.1" cy="1092.5" r="16.6"/>
<circle cx="392.3" cy="1091.2" r="16.6"/>
<circle cx="405.6" cy="1091.2" r="16.6"/>
<circle cx="419.1" cy="1091.2" r="16.6"/>
<circle cx="432.3" cy="1090.5" r="16.6"/>
<circle cx="446.1" cy="1089.5" r="16.6"/>
<circle cx="459.8" cy="1097.5" r="16.6"/>
<circle cx="471.1" cy="1107.5" r="16.6"/>
<circle cx="479.8" cy="1112.5" r="16.6"/>
<circle cx="489.8" cy="1112.5" r="16.6"/>
<circle cx="499.8" cy="1113.8" r="16.6"/>
<circle cx="511.1" cy="1115" r="16.6"/>
<circle cx="518.5" cy="1121.2" r="16.6"/>
<circle cx="527.3" cy="1123.8" r="16.6"/>
<circle cx="536" cy="1122.5" r="16.6"/>
<circle cx="544.8" cy="1120" r="16.6"/>
<circle cx="554.8" cy="1115" r="16.6"/>
<circle cx="564.8" cy="1107.5" r="16.6"/>
<circle cx="576" cy="1103.8" r="16.6"/>
<circle cx="586" cy="1098.8" r="16.6"/>
<circle cx="597.3" cy="1092.5" r="16.6"/>
<circle cx="608.5" cy="1082.5" r="16.6"/>
<circle cx="621" cy="1077.5" r="16.6"/>
<circle cx="634.8" cy="1070" r="16.6"/>
<circle cx="649.3" cy="1057" r="16.6"/>
<circle cx="664.3" cy="1047.2" r="16.6"/>
<circle cx="678.8" cy="1033.8" r="16.6"/>
<circle cx="696" cy="1022.5" r="16.6"/>
<circle cx="713.5" cy="1010" r="16.6"/>
<circle cx="731.8" cy="993.8" r="16.6"/>
<circle cx="750.5" cy="979.5" r="16.6"/>
<circle cx="771" cy="963" r="16.6"/>
<circle cx="792.3" cy="944.2" r="16.6"/>
<circle cx="815.3" cy="928.8" r="16.6"/>
<circle cx="839.8" cy="907.5" r="16.6"/>
<circle cx="864.8" cy="888" r="16.6"/>
<circle cx="892.3" cy="860" r="16.6"/>
<circle cx="921" cy="837" r="16.6"/>
<circle cx="952.3" cy="813" r="16.6"/>
<circle cx="984.2" cy="785.8" r="16.6"/>
<circle cx="1019.2" cy="753.8" r="16.6"/>
<circle cx="1054.8" cy="723.8" r="16.6"/>
<circle cx="1093.5" cy="694.5" r="16.6"/>
<circle cx="1134" cy="658" r="16.6"/>
<circle cx="1177.3" cy="620.8" r="16.6"/>
<circle cx="1222.4" cy="586.2" r="16.6"/>
<circle cx="1270.1" cy="541.5" r="16.6"/>
<circle cx="1320.8" cy="503.1" r="16.6"/>
<circle cx="1373.7" cy="455.8" r="16.6"/>
<circle cx="1429.6" cy="413.2" r="16.6"/>
<circle cx="1488.5" cy="364.6" r="16.6"/>
<circle cx="1550.4" cy="323.5" r="16.6"/>
<circle cx="1613.8" cy="289.3" r="16.6"/>
<circle cx="1678.4" cy="272.2" r="16.6"/>
</g>
<g stroke="#000" stroke-width="8" fill="none">
<rect x="231.5" y="95" width="1527.5" height="1123.5"/>
<path d="M316.4 1218.5 V1194.5M486.1 1218.5 V1194.5M655.8 1218.5 V1194.5M825.5 1218.5 V1194.5M995.2 1218.5 V1194.5M1165 1218.5 V1194.5M1334.7 1218.5 V1194.5M1504.4 1218.5 V1194.5M1674.1 1218.5 V1194.5M401.2 1218.5 V1206.5M570.9 1218.5 V1206.5M740.7 1218.5 V1206.5M910.4 1218.5 V1206.5M1080.1 1218.5 V1206.5M1249.8 1218.5 V1206.5M1419.6 1218.5 V1206.5M1589.3 1218.5 V1206.5M231.5 993.8 H255.5M231.5 769.1 H255.5M231.5 544.4 H255.5M231.5 319.7 H255.5M231.5 1106.2 H243.5M231.5 881.5 H243.5M231.5 656.8 H243.5M231.5 432.1 H243.5M231.5 207.4 H243.5"/>
</g>
<g font-size="64.6" text-anchor="middle">
<text x="315.4" y="1295.6">0.1</text>
<text x="485.1" y="1295.6">0.2</text>
<text x="654.8" y="1295.6">0.3</text>
<text x="824.5" y="1295.6">0.4</text>
<text x="994.2" y="1295.6">0.5</text>
<text x="1164" y="1295.6">0.6</text>
<text x="1333.7" y="1295.6">0.7</text>
<text x="1503.4" y="1295.6">0.8</text>
<text x="1673.1" y="1295.6">0.9</text>
</g>
<g font-size="64.6" text-anchor="end">
<text x="204.6" y="1238">0.0</text>
<text x="204.6" y="1013.3">0.5</text>
<text x="204.6" y="788.6">1.0</text>
<text x="204.6" y="563.9">1.5</text>
<text x="204.6" y="339.2">2.0</text>
<text x="204.6" y="114.5">2.5</text>
</g>
<text font-size="64" text-anchor="middle" x="995.2" y="1379">Conversion α</text>
<text font-size="64" text-anchor="middle" transform="translate(98.8 656.8) rotate(-90)">Z(α)/Z(0.5)</text>
<text font-size="62" letter-spacing="1.3" x="49" y="85">(a)</text>
<g fill="none" stroke-linecap="round" stroke-width="11.7">
<path d="M253.3 141.5H380.1" stroke="#515151"/>
<path d="M488.4 141.5H615.1" stroke="#FD4141" stroke-dasharray="51.5 68.5"/>
<path d="M696.9 141.5H823.6" stroke="#0868B6" stroke-dasharray="8 62.7"/>
<path d="M253.3 221H380.1" stroke="#00A568" stroke-dasharray="63.5 38.5 8.5 38.5"/>
<path d="M488.4 221H615.1" stroke="#A676B8" stroke-dasharray="45 40 8 40 8 40"/>
<path d="M696.9 221H823.6" stroke="#D39705" stroke-dasharray="20.5 33.5"/>
<path d="M896.4 221H1023.1" stroke="#06BCC0" stroke-dasharray="0.01 23"/>
<path d="M253.3 301H380.1" stroke="#864B4E" stroke-dasharray="36.5 28.75 0.01 28.75"/>
<path d="M488.4 301H615.1" stroke="#8B8B14"/>
<path d="M696.9 301H823.6" stroke="#FF6A05" stroke-dasharray="51.5 68.5"/>
<path d="M896.4 301H1023.1" stroke="#4496C8" stroke-dasharray="8 62.7"/>
<path d="M253.3 380.5H380.1" stroke="#36B00E" stroke-dasharray="63.5 38.5 8.5 38.5"/>
<path d="M488.4 380.5H615.1" stroke="#515151" stroke-dasharray="45 40 8 40 8 40"/>
<path d="M696.9 380.5H823.6" stroke="#FD4141" stroke-dasharray="20.5 33.5"/>
<path d="M896.4 380.5H1023.1" stroke="#0868B6" stroke-dasharray="0.01 23"/>
<path d="M253.3 460.3H380.1" stroke="#00A568" stroke-dasharray="36.5 28.75 0.01 28.75"/>
<path d="M488.4 460.3H615.1" stroke="#A676B8"/>
<path d="M696.9 460.3H823.6" stroke="#D39705" stroke-dasharray="51.5 68.5"/>
<path d="M896.4 460.3H1023.1" stroke="#5D44A2"/>
</g>
<circle cx="959.8" cy="460.3" r="16.6" fill="url(#sphA)"/>
<g font-size="34">
<text x="390" y="164">R1</text>
<text x="625" y="164">R2</text>
<text x="833.5" y="164">R3</text>
<text x="390" y="243.5">F1</text>
<text x="625" y="243.5">F1.5</text>
<text x="833.5" y="243.5">F2</text>
<text x="1033" y="243.5">F3</text>
<text x="390" y="323.5">P2/3</text>
<text x="625" y="323.5">P2</text>
<text x="833.5" y="323.5">P3</text>
<text x="1033" y="323.5">P4</text>
<text x="390" y="403">D1</text>
<text x="625" y="403">D2</text>
<text x="833.5" y="403">D3</text>
<text x="1033" y="403">D4</text>
<text x="390" y="482.8">A2</text>
<text x="625" y="482.8">A3</text>
<text x="833.5" y="482.8">A4</text>
<text x="1033" y="482.8">WCO - Biodiesel</text>
</g>
</g>
<g>
<g fill="none" stroke-linecap="round" stroke-linejoin="round" stroke-width="10.8">
<path d="M300.3 2534.9 L1661.4 1814.3" stroke="#515151" stroke-width="8.4"/>
<path d="M300.3 2519.1 L307.9 2514.6 L315.4 2510 L323 2505.5 L330.6 2500.9 L338.1 2496.4 L345.7 2491.9 L353.3 2487.4 L360.8 2483 L368.4 2478.5 L375.9 2474.1 L383.5 2469.6 L391.1 2465.2 L398.6 2460.8 L406.2 2456.4 L413.7 2452 L421.3 2447.7 L428.9 2443.3 L436.4 2439 L444 2434.7 L451.6 2430.3 L459.1 2426.1 L466.7 2421.8 L474.2 2417.5 L481.8 2413.3 L489.4 2409 L496.9 2404.8 L504.5 2400.6 L512 2396.4 L519.6 2392.3 L527.2 2388.1 L534.7 2384 L542.3 2379.9 L549.9 2375.7 L557.4 2371.7 L565 2367.6 L572.5 2363.5 L580.1 2359.5 L587.7 2355.5 L595.2 2351.5 L602.8 2347.5 L610.4 2343.5 L617.9 2339.6 L625.5 2335.6 L633 2331.7 L640.6 2327.8 L648.2 2323.9 L655.7 2320.1 L663.3 2316.2 L670.8 2312.4 L678.4 2308.6 L686 2304.8 L693.5 2301 L701.1 2297.3 L708.7 2293.6 L716.2 2289.9 L723.8 2286.2 L731.3 2282.5 L738.9 2278.9 L746.5 2275.2 L754 2271.6 L761.6 2268 L769.1 2264.5 L776.7 2260.9 L784.3 2257.4 L791.8 2253.9 L799.4 2250.5 L807 2247 L814.5 2243.6 L822.1 2240.2 L829.6 2236.8 L837.2 2233.5 L844.8 2230.1 L852.3 2226.8 L859.9 2223.5 L867.4 2220.3 L875 2217 L882.6 2213.8 L890.1 2210.6 L897.7 2207.5 L905.3 2204.4 L912.8 2201.3 L920.4 2198.2 L927.9 2195.1 L935.5 2192.1 L943.1 2189.1 L950.6 2186.2 L958.2 2183.2 L965.8 2180.3 L973.3 2177.4 L980.9 2174.6" stroke="#FD4141" stroke-dasharray="47.28 62.88"/>
<path d="M980.9 2174.6 L983 2173.8 L985.1 2173 L987.2 2172.3 L989.3 2171.5 L991.4 2170.7 L993.5 2169.9 L995.6 2169.2 L997.7 2168.4 L999.8 2167.6 L1001.9 2166.9 L1004 2166.1 L1006.1 2165.3 L1008.2 2164.6 L1010.3 2163.8 L1012.4 2163.1 L1014.5 2162.3 L1016.6 2161.6 L1018.7 2160.8 L1020.8 2160.1 L1022.9 2159.3 L1025 2158.6 L1027.1 2157.9 L1029.2 2157.1 L1031.3 2156.4 L1033.4 2155.7 L1035.5 2155 L1037.6 2154.2 L1039.7 2153.5 L1041.8 2152.8 L1043.9 2152.1 L1046 2151.4 L1048.1 2150.7 L1050.2 2150 L1052.3 2149.3 L1054.4 2148.6 L1056.5 2147.9 L1058.6 2147.2 L1060.7 2146.5 L1062.8 2145.8 L1064.9 2145.1 L1067 2144.4 L1069.1 2143.7 L1071.2 2143.1 L1073.3 2142.4 L1075.4 2141.7 L1077.5 2141 L1079.6 2140.4 L1081.7 2139.7 L1083.8 2139.1 L1085.9 2138.4 L1088 2137.7 L1090.1 2137.1 L1092.2 2136.4 L1094.3 2135.8 L1096.5 2135.1 L1098.6 2134.5 L1100.7 2133.9 L1102.8 2133.2 L1104.9 2132.6 L1107 2132 L1109.1 2131.3 L1111.2 2130.7 L1113.3 2130.1 L1115.4 2129.5 L1117.5 2128.9 L1119.6 2128.3 L1121.7 2127.6 L1123.8 2127 L1125.9 2126.4 L1128 2125.8 L1130.1 2125.2 L1132.2 2124.6 L1134.3 2124.1 L1136.4 2123.5 L1138.5 2122.9 L1140.6 2122.3 L1142.7 2121.7 L1144.8 2121.2 L1146.9 2120.6 L1149 2120 L1151.1 2119.5 L1153.2 2118.9 L1155.3 2118.3 L1157.4 2117.8 L1159.5 2117.2 L1161.6 2116.7 L1163.7 2116.1 L1165.8 2115.6 L1167.9 2115.1 L1170 2114.5" stroke="#FD4141" stroke-dasharray="47.28 62.88" stroke-dashoffset="1.8"/>
<path d="M1189.4 2109.8 L1195.6 2108.3 L1201.9 2106.9 L1208.1 2105.4 L1214.4 2104.1 L1220.6 2102.7 L1226.9 2101.4 L1233.1 2100.2M1299.4 2089 L1305.7 2088.1 L1312 2087.3 L1318.3 2086.6 L1324.7 2085.9 L1331 2085.2 L1337.3 2084.6 L1343.6 2084.1M1409.4 2081.3 L1415.5 2081.4 L1421.6 2081.5 L1427.7 2081.7 L1433.8 2081.9 L1439.9 2082.2 L1446 2082.6 L1452.1 2083M1490.4 2087.2 L1496.5 2088.2 L1502.6 2089.2 L1508.7 2090.3 L1514.8 2091.5 L1520.9 2092.8 L1527 2094.2 L1533.1 2095.6M1592.9 2115.6 L1599.3 2118.3 L1605.6 2121.3 L1612 2124.4 L1618.4 2127.7 L1624.7 2131.1 L1631.1 2134.7" stroke="#FD4141"/>
<path d="M300.3 2513.5 L307.9 2508.8 L315.4 2504 L323 2499.3 L330.6 2494.6 L338.1 2489.9 L345.7 2485.2 L353.3 2480.6 L360.8 2475.9 L368.4 2471.3 L375.9 2466.7 L383.5 2462.2 L391.1 2457.6 L398.6 2453.1 L406.2 2448.5 L413.7 2444 L421.3 2439.6 L428.9 2435.1 L436.4 2430.7 L444 2426.2 L451.6 2421.8 L459.1 2417.4 L466.7 2413.1 L474.2 2408.7 L481.8 2404.4 L489.4 2400.1 L496.9 2395.8 L504.5 2391.6 L512 2387.3 L519.6 2383.1 L527.2 2378.9 L534.7 2374.8 L542.3 2370.6 L549.9 2366.5 L557.4 2362.4 L565 2358.3 L572.5 2354.2 L580.1 2350.2 L587.7 2346.2 L595.2 2342.2 L602.8 2338.2 L610.4 2334.3 L617.9 2330.3 L625.5 2326.5 L633 2322.6 L640.6 2318.7 L648.2 2314.9 L655.7 2311.1 L663.3 2307.3 L670.8 2303.6 L678.4 2299.8 L686 2296.1 L693.5 2292.5 L701.1 2288.8 L708.7 2285.2 L716.2 2281.6 L723.8 2278 L731.3 2274.5 L738.9 2271 L746.5 2267.5 L754 2264 L761.6 2260.6 L769.1 2257.2 L776.7 2253.8 L784.3 2250.5 L791.8 2247.2 L799.4 2243.9 L807 2240.6 L814.5 2237.4 L822.1 2234.2 L829.6 2231 L837.2 2227.9 L844.8 2224.8 L852.3 2221.7 L859.9 2218.7 L867.4 2215.7 L875 2212.7 L882.6 2209.7 L890.1 2206.8 L897.7 2203.9 L905.3 2201.1 L912.8 2198.3 L920.4 2195.5 L927.9 2192.8 L935.5 2190.1 L943.1 2187.4 L950.6 2184.8 L958.2 2182.2 L965.8 2179.6 L973.3 2177.1 L980.9 2174.6" stroke="#0868B6" stroke-dasharray="7.34 57.56"/>
<path d="M980.9 2174.6 L983 2173.9 L985.1 2173.2 L987.2 2172.6 L989.3 2171.9 L991.4 2171.2 L993.5 2170.5 L995.6 2169.9 L997.7 2169.2 L999.8 2168.6 L1001.9 2167.9 L1004 2167.2 L1006.1 2166.6 L1008.2 2165.9 L1010.3 2165.3 L1012.4 2164.7 L1014.5 2164 L1016.6 2163.4 L1018.7 2162.8 L1020.8 2162.1 L1022.9 2161.5 L1025 2160.9 L1027.1 2160.3 L1029.2 2159.6 L1031.3 2159 L1033.4 2158.4 L1035.5 2157.8 L1037.6 2157.2 L1039.7 2156.6 L1041.8 2156 L1043.9 2155.4 L1046 2154.8 L1048.1 2154.2 L1050.2 2153.7 L1052.3 2153.1 L1054.4 2152.5 L1056.5 2151.9 L1058.6 2151.4 L1060.7 2150.8 L1062.8 2150.2 L1064.9 2149.7 L1067 2149.1 L1069.1 2148.6 L1071.2 2148 L1073.3 2147.5 L1075.4 2146.9 L1077.5 2146.4 L1079.6 2145.9 L1081.7 2145.3 L1083.8 2144.8 L1085.9 2144.3 L1088 2143.7 L1090.1 2143.2 L1092.2 2142.7 L1094.3 2142.2 L1096.5 2141.7 L1098.6 2141.2 L1100.7 2140.7 L1102.8 2140.2 L1104.9 2139.7 L1107 2139.2 L1109.1 2138.7 L1111.2 2138.2 L1113.3 2137.8 L1115.4 2137.3 L1117.5 2136.8 L1119.6 2136.3 L1121.7 2135.9 L1123.8 2135.4 L1125.9 2135 L1128 2134.5 L1130.1 2134.1 L1132.2 2133.6 L1134.3 2133.2 L1136.4 2132.7 L1138.5 2132.3 L1140.6 2131.9 L1142.7 2131.5 L1144.8 2131 L1146.9 2130.6 L1149 2130.2 L1151.1 2129.8 L1153.2 2129.4 L1155.3 2129 L1157.4 2128.6 L1159.5 2128.2 L1161.6 2127.8 L1163.7 2127.4 L1165.8 2127 L1167.9 2126.7 L1170 2126.3" stroke="#0868B6" stroke-dasharray="7.34 57.56" stroke-dashoffset="46.6"/>
<path d="M1187.4 2123.4 L1191 2122.8 L1194.6 2122.2M1255.4 2114.9 L1259 2114.5 L1262.6 2114.2M1318.4 2111.6 L1322 2111.6 L1325.6 2111.6M1382.4 2113.7 L1386 2114 L1389.6 2114.3M1447.9 2122.5 L1451.2 2123.2 L1454.6 2123.9M1498.4 2135 L1502 2136.1 L1505.6 2137.2M1547.4 2152.8 L1551 2154.3 L1554.6 2155.9M1599.4 2179.3 L1603 2181.5 L1606.6 2183.8M1650.4 2215.4 L1653 2217.6 L1655.6 2219.8" stroke="#0868B6"/>
<path d="M300.3 2501.8 L308.8 2496 L317.3 2490.2 L325.8 2484.5 L334.3 2478.8 L342.9 2473.2 L351.4 2467.5 L359.9 2462 L368.4 2456.4 L376.9 2450.9 L385.4 2445.5 L393.9 2440.1 L402.4 2434.7 L410.9 2429.3 L419.4 2424 L427.9 2418.7 L436.4 2413.5 L444.9 2408.3 L453.4 2403.2 L462 2398.1 L470.5 2393 L479 2388 L487.5 2383 L496 2378 L504.5 2373.1 L513 2368.3 L521.5 2363.5 L530 2358.7 L538.5 2353.9 L547 2349.3 L555.5 2344.6 L564 2340 L572.5 2335.4 L581 2330.9 L589.6 2326.4 L598.1 2322 L606.6 2317.6 L615.1 2313.3 L623.6 2309 L632.1 2304.7 L640.6 2300.5 L649.1 2296.4 L657.6 2292.3 L666.1 2288.2 L674.6 2284.2 L683.1 2280.2 L691.6 2276.3 L700.1 2272.4 L708.7 2268.6 L717.2 2264.8 L725.7 2261.1 L734.2 2257.4 L742.7 2253.8 L751.2 2250.2 L759.7 2246.7 L768.2 2243.2 L776.7 2239.8 L785.2 2236.5 L793.7 2233.1 L802.2 2229.9 L810.7 2226.7 L819.2 2223.5 L827.8 2220.4 L836.3 2217.4 L844.8 2214.4 L853.3 2211.5 L861.8 2208.6 L870.3 2205.8 L878.8 2203 L887.3 2200.3 L895.8 2197.7 L904.3 2195.1 L912.8 2192.6 L921.3 2190.1 L929.8 2187.7 L938.3 2185.4 L946.8 2183.1 L955.4 2180.9 L963.9 2178.7 L972.4 2176.6 L980.9 2174.6 L989.4 2172.6 L997.9 2170.7 L1006.4 2168.9 L1014.9 2167.2 L1023.4 2165.5 L1031.9 2163.8 L1040.4 2162.3 L1048.9 2160.8 L1057.4 2159.4 L1065.9 2158 L1074.5 2156.8 L1083 2155.6 L1091.5 2154.4 L1100 2153.4 L1108.5 2152.4 L1117 2151.5 L1125.5 2150.7 L1134 2149.9 L1142.5 2149.3 L1151 2148.7 L1159.5 2148.2 L1168 2147.8 L1176.5 2147.4 L1185 2147.2 L1193.5 2147 L1202.1 2146.9 L1210.6 2146.9 L1219.1 2147 L1227.6 2147.2 L1236.1 2147.5 L1244.6 2147.9 L1253.1 2148.3 L1261.6 2148.9 L1270.1 2149.5 L1278.6 2150.3 L1287.1 2151.1 L1295.6 2152.1 L1304.1 2153.2 L1312.6 2154.3 L1321.2 2155.6 L1329.7 2157 L1338.2 2158.5 L1346.7 2160.1 L1355.2 2161.8 L1363.7 2163.6 L1372.2 2165.6 L1380.7 2167.6 L1389.2 2169.8 L1397.7 2172.2 L1406.2 2174.6 L1414.7 2177.2 L1423.2 2179.9 L1431.7 2182.7 L1440.2 2185.7 L1448.8 2188.8 L1457.3 2192.1 L1465.8 2195.5 L1474.3 2199.1 L1482.8 2202.8 L1491.3 2206.7 L1499.8 2210.7 L1508.3 2214.9 L1516.8 2219.3 L1525.3 2223.9 L1533.8 2228.6 L1542.3 2233.5 L1550.8 2238.6 L1559.3 2243.9 L1567.9 2249.5 L1576.4 2255.2 L1584.9 2261.1 L1593.4 2267.3 L1601.9 2273.7 L1610.4 2280.3 L1618.9 2287.2 L1627.4 2294.3 L1635.9 2301.8 L1644.4 2309.5 L1652.9 2317.5 L1661.4 2325.8" stroke="#00A568" stroke-dasharray="58.29 35.34 7.8 35.34" stroke-width="8.4"/>
<path d="M300.3 2483 L307.9 2477.2 L315.4 2471.5 L323 2465.8 L330.6 2460.2 L338.1 2454.6 L345.7 2449.1 L353.3 2443.7 L360.8 2438.2 L368.4 2432.9 L375.9 2427.6 L383.5 2422.3 L391.1 2417.1 L398.6 2411.9 L406.2 2406.8 L413.7 2401.7 L421.3 2396.7 L428.9 2391.7 L436.4 2386.8 L444 2381.9 L451.6 2377.1 L459.1 2372.3 L466.7 2367.6 L474.2 2362.9 L481.8 2358.3 L489.4 2353.7 L496.9 2349.2 L504.5 2344.8 L512 2340.3 L519.6 2336 L527.2 2331.7 L534.7 2327.4 L542.3 2323.2 L549.9 2319 L557.4 2314.9 L565 2310.9 L572.5 2306.9 L580.1 2303 L587.7 2299.1 L595.2 2295.2 L602.8 2291.5 L610.4 2287.7 L617.9 2284.1 L625.5 2280.4 L633 2276.9 L640.6 2273.4 L648.2 2269.9 L655.7 2266.5 L663.3 2263.1 L670.8 2259.8 L678.4 2256.6 L686 2253.4 L693.5 2250.3 L701.1 2247.2 L708.7 2244.2 L716.2 2241.2 L723.8 2238.3 L731.3 2235.5 L738.9 2232.7 L746.5 2230 L754 2227.3 L761.6 2224.7 L769.1 2222.1 L776.7 2219.6 L784.3 2217.2 L791.8 2214.8 L799.4 2212.4 L807 2210.2 L814.5 2208 L822.1 2205.8 L829.6 2203.7 L837.2 2201.7 L844.8 2199.7 L852.3 2197.8 L859.9 2195.9 L867.4 2194.1 L875 2192.4 L882.6 2190.7 L890.1 2189.1 L897.7 2187.6 L905.3 2186.1 L912.8 2184.6 L920.4 2183.3 L927.9 2182 L935.5 2180.7 L943.1 2179.5 L950.6 2178.4 L958.2 2177.4 L965.8 2176.4 L973.3 2175.5 L980.9 2174.6" stroke="#A676B8" stroke-dasharray="41.31 36.72 7.34 36.72 7.34 36.72"/>
<path d="M980.9 2174.6 L981.5 2174.5 L982.1 2174.5 L982.7 2174.4 L983.3 2174.3 L983.9 2174.3 L984.5 2174.2 L985.1 2174.1 L985.7 2174.1 L986.3 2174 L986.9 2174 L987.5 2173.9 L988.1 2173.8 L988.7 2173.8 L989.3 2173.7 L989.9 2173.7 L990.5 2173.6 L991.1 2173.5 L991.7 2173.5 L992.3 2173.4 L992.9 2173.4 L993.5 2173.3 L994.1 2173.2 L994.7 2173.2 L995.3 2173.1 L995.9 2173.1 L996.5 2173 L997.1 2173 L997.7 2172.9 L998.3 2172.9 L998.9 2172.8 L999.5 2172.8 L1000.1 2172.7 L1000.7 2172.6 L1001.3 2172.6 L1001.9 2172.5 L1002.5 2172.5 L1003.1 2172.4 L1003.7 2172.4 L1004.3 2172.3 L1004.9 2172.3 L1005.5 2172.2 L1006.1 2172.2 L1006.7 2172.1 L1007.3 2172.1 L1007.9 2172 L1008.5 2172 L1009.1 2172 L1009.7 2171.9 L1010.3 2171.9 L1010.9 2171.8 L1011.5 2171.8 L1012.1 2171.7 L1012.7 2171.7 L1013.4 2171.6 L1014 2171.6 L1014.6 2171.6 L1015.2 2171.5 L1015.8 2171.5 L1016.4 2171.4 L1017 2171.4 L1017.6 2171.3 L1018.2 2171.3 L1018.8 2171.3 L1019.4 2171.2 L1020 2171.2 L1020.6 2171.1 L1021.2 2171.1 L1021.8 2171.1 L1022.4 2171 L1023 2171 L1023.6 2171 L1024.2 2170.9 L1024.8 2170.9 L1025.4 2170.8 L1026 2170.8 L1026.6 2170.8 L1027.2 2170.7 L1027.8 2170.7 L1028.4 2170.7 L1029 2170.6 L1029.6 2170.6 L1030.2 2170.6 L1030.8 2170.5 L1031.4 2170.5 L1032 2170.5 L1032.6 2170.5 L1033.2 2170.4 L1033.8 2170.4 L1034.4 2170.4 L1035 2170.3" stroke="#A676B8" stroke-dasharray="41.31 36.72 7.34 36.72 7.34 36.72" stroke-dashoffset="88.9"/>
<path d="M1057.9 2169.5 L1064.4 2169.4 L1071 2169.4 L1077.5 2169.4 L1084 2169.4 L1090.6 2169.5 L1097.1 2169.6M1136.4 2171.6 L1139.2 2171.8 L1142.1 2172.1M1179.4 2176 L1182.5 2176.4 L1185.6 2176.8M1225.4 2183.3 L1232.5 2184.7 L1239.7 2186.1 L1246.8 2187.7 L1254 2189.2 L1261.1 2190.9M1298.9 2200.9 L1301.7 2201.7 L1304.6 2202.6M1340.4 2214.2 L1343 2215.1 L1345.6 2216M1382.9 2230.4 L1389.4 2233.2 L1396 2236 L1402.5 2238.9 L1409.1 2241.8 L1415.6 2244.9M1450.4 2262.1 L1452.5 2263.2 L1454.6 2264.3M1487.9 2283 L1494.7 2287 L1501.6 2291.2 L1508.4 2295.4 L1515.3 2299.8 L1522.1 2304.2M1555.4 2326.9 L1557.5 2328.4 L1559.6 2329.9M1587.9 2351.2 L1590 2352.9 L1592.1 2354.5M1620.4 2377.8 L1627.5 2383.8 L1634.5 2390 L1641.5 2396.3 L1648.6 2402.7" stroke="#A676B8"/>
<path d="M300.3 2462.9 L307.9 2456.5 L315.4 2450.2 L323 2444 L330.6 2437.8 L338.1 2431.7 L345.7 2425.7 L353.3 2419.8 L360.8 2413.9 L368.4 2408.1 L375.9 2402.4 L383.5 2396.7 L391.1 2391.1 L398.6 2385.6 L406.2 2380.2 L413.7 2374.8 L421.3 2369.5 L428.9 2364.2 L436.4 2359.1 L444 2354 L451.6 2349 L459.1 2344 L466.7 2339.2 L474.2 2334.4 L481.8 2329.6 L489.4 2325 L496.9 2320.4 L504.5 2315.8 L512 2311.4 L519.6 2307 L527.2 2302.7 L534.7 2298.5 L542.3 2294.3 L549.9 2290.2 L557.4 2286.2 L565 2282.3 L572.5 2278.4 L580.1 2274.6 L587.7 2270.8 L595.2 2267.2 L602.8 2263.6 L610.4 2260 L617.9 2256.6 L625.5 2253.2 L633 2249.9 L640.6 2246.7 L648.2 2243.5 L655.7 2240.4 L663.3 2237.4 L670.8 2234.4 L678.4 2231.5 L686 2228.7 L693.5 2226 L701.1 2223.3 L708.7 2220.7 L716.2 2218.2 L723.8 2215.7 L731.3 2213.4 L738.9 2211 L746.5 2208.8 L754 2206.6 L761.6 2204.5 L769.1 2202.5 L776.7 2200.5 L784.3 2198.7 L791.8 2196.8 L799.4 2195.1 L807 2193.4 L814.5 2191.8 L822.1 2190.3 L829.6 2188.8 L837.2 2187.4 L844.8 2186.1 L852.3 2184.9 L859.9 2183.7 L867.4 2182.6 L875 2181.6 L882.6 2180.6 L890.1 2179.7 L897.7 2178.9 L905.3 2178.2 L912.8 2177.5 L920.4 2176.9 L927.9 2176.3 L935.5 2175.9 L943.1 2175.5 L950.6 2175.2 L958.2 2174.9 L965.8 2174.7 L973.3 2174.6 L980.9 2174.6" stroke="#D39705" stroke-dasharray="18.82 30.75"/>
<path d="M980.9 2174.6 L988.4 2174.6 L996 2174.7 L1003.6 2174.9 L1011.1 2175.2 L1018.7 2175.5 L1026.2 2175.9 L1033.8 2176.3 L1041.4 2176.9 L1048.9 2177.5 L1056.5 2178.2 L1064.1 2178.9 L1071.6 2179.7 L1079.2 2180.6 L1086.7 2181.6 L1094.3 2182.6 L1101.9 2183.7 L1109.4 2184.9 L1117 2186.1 L1124.5 2187.4 L1132.1 2188.8 L1139.7 2190.3 L1147.2 2191.8 L1154.8 2193.4 L1162.4 2195.1 L1169.9 2196.8 L1177.5 2198.7 L1185 2200.5 L1192.6 2202.5 L1200.2 2204.5 L1207.7 2206.6 L1215.3 2208.8 L1222.9 2211 L1230.4 2213.4 L1238 2215.7 L1245.5 2218.2 L1253.1 2220.7 L1260.7 2223.3 L1268.2 2226 L1275.8 2228.7 L1283.3 2231.5 L1290.9 2234.4 L1298.5 2237.4 L1306 2240.4 L1313.6 2243.5 L1321.2 2246.7 L1328.7 2249.9 L1336.3 2253.2 L1343.8 2256.6 L1351.4 2260 L1359 2263.6 L1366.5 2267.2 L1374.1 2270.8 L1381.6 2274.6 L1389.2 2278.4 L1396.8 2282.3 L1404.3 2286.2 L1411.9 2290.2 L1419.5 2294.3 L1427 2298.5 L1434.6 2302.7 L1442.1 2307 L1449.7 2311.4 L1457.3 2315.8 L1464.8 2320.4 L1472.4 2325 L1479.9 2329.6 L1487.5 2334.4 L1495.1 2339.2 L1502.6 2344 L1510.2 2349 L1517.8 2354 L1525.3 2359.1 L1532.9 2364.2 L1540.4 2369.5 L1548 2374.8 L1555.6 2380.2 L1563.1 2385.6 L1570.7 2391.1 L1578.3 2396.7 L1585.8 2402.4 L1593.4 2408.1 L1600.9 2413.9 L1608.5 2419.8 L1616.1 2425.7 L1623.6 2431.7 L1631.2 2437.8 L1638.7 2444 L1646.3 2450.2 L1653.9 2456.5 L1661.4 2462.9" stroke="#D39705" stroke-dasharray="18.95 30.96" stroke-dashoffset="9.4"/>
<path d="M300.3 2419.6 L307.9 2412 L315.4 2404.6 L323 2397.3 L330.6 2390.1 L338.1 2383 L345.7 2376.1 L353.3 2369.3 L360.8 2362.6 L368.4 2356 L375.9 2349.6 L383.5 2343.3 L391.1 2337.1 L398.6 2331 L406.2 2325 L413.7 2319.2 L421.3 2313.4 L428.9 2307.8 L436.4 2302.4 L444 2297 L451.6 2291.7 L459.1 2286.6 L466.7 2281.6 L474.2 2276.7 L481.8 2271.9 L489.4 2267.2 L496.9 2262.6 L504.5 2258.1 L512 2253.8 L519.6 2249.5 L527.2 2245.4 L534.7 2241.4 L542.3 2237.5 L549.9 2233.7 L557.4 2230 L565 2226.4 L572.5 2222.9 L580.1 2219.5 L587.7 2216.3 L595.2 2213.1 L602.8 2210 L610.4 2207.1 L617.9 2204.2 L625.5 2201.4 L633 2198.8 L640.6 2196.2 L648.2 2193.8 L655.7 2191.4 L663.3 2189.1 L670.8 2187 L678.4 2184.9 L686 2182.9 L693.5 2181.1 L701.1 2179.3 L708.7 2177.6 L716.2 2176 L723.8 2174.5 L731.3 2173.1 L738.9 2171.8 L746.5 2170.6 L754 2169.4 L761.6 2168.4 L769.1 2167.4 L776.7 2166.6 L784.3 2165.8 L791.8 2165.1 L799.4 2164.5 L807 2164 L814.5 2163.6 L822.1 2163.2 L829.6 2163 L837.2 2162.8 L844.8 2162.7 L852.3 2162.7 L859.9 2162.8 L867.4 2162.9 L875 2163.2 L882.6 2163.5 L890.1 2163.9 L897.7 2164.4 L905.3 2164.9 L912.8 2165.5 L920.4 2166.3 L927.9 2167 L935.5 2167.9 L943.1 2168.8 L950.6 2169.8 L958.2 2170.9 L965.8 2172.1 L973.3 2173.3 L980.9 2174.6" stroke="#06BCC0" stroke-dasharray="0.01 21.9"/>
<path d="M980.9 2174.6 L988.4 2176 L996 2177.4 L1003.6 2178.9 L1011.1 2180.5 L1018.7 2182.1 L1026.2 2183.9 L1033.8 2185.6 L1041.4 2187.5 L1048.9 2189.4 L1056.5 2191.4 L1064.1 2193.4 L1071.6 2195.6 L1079.2 2197.7 L1086.7 2200 L1094.3 2202.3 L1101.9 2204.6 L1109.4 2207.1 L1117 2209.5 L1124.5 2212.1 L1132.1 2214.7 L1139.7 2217.3 L1147.2 2220.1 L1154.8 2222.8 L1162.4 2225.7 L1169.9 2228.6 L1177.5 2231.5 L1185 2234.5 L1192.6 2237.6 L1200.2 2240.7 L1207.7 2243.8 L1215.3 2247 L1222.9 2250.3 L1230.4 2253.6 L1238 2257 L1245.5 2260.4 L1253.1 2263.8 L1260.7 2267.4 L1268.2 2270.9 L1275.8 2274.5 L1283.3 2278.2 L1290.9 2281.9 L1298.5 2285.6 L1306 2289.4 L1313.6 2293.2 L1321.2 2297.1 L1328.7 2301 L1336.3 2305 L1343.8 2309 L1351.4 2313 L1359 2317.1 L1366.5 2321.2 L1374.1 2325.4 L1381.6 2329.6 L1389.2 2333.8 L1396.8 2338.1 L1404.3 2342.4 L1411.9 2346.8 L1419.5 2351.1 L1427 2355.6 L1434.6 2360 L1442.1 2364.5 L1449.7 2369 L1457.3 2373.6 L1464.8 2378.1 L1472.4 2382.7 L1479.9 2387.4 L1487.5 2392.1 L1495.1 2396.7 L1502.6 2401.5 L1510.2 2406.2 L1517.8 2411 L1525.3 2415.8 L1532.9 2420.6 L1540.4 2425.5 L1548 2430.4 L1555.6 2435.3 L1563.1 2440.2 L1570.7 2445.2 L1578.3 2450.1 L1585.8 2455.1 L1593.4 2460.1 L1600.9 2465.2 L1608.5 2470.2 L1616.1 2475.3 L1623.6 2480.4 L1631.2 2485.5 L1638.7 2490.6 L1646.3 2495.8 L1653.9 2500.9 L1661.4 2506.1" stroke="#06BCC0" stroke-dasharray="0.01 21.9" stroke-dashoffset="16.9"/>
<path d="M300.3 2534.9 L1661.4 1814.3" stroke="#864B4E" stroke-dasharray="33.51 26.39 0.01 26.39" stroke-width="8.4"/>
<path d="M300.3 2534.9 L1661.4 1814.3" stroke="#8B8B14"/>
<path d="M300.3 2534.9 L950 2190.9" stroke="#FF6A05" stroke-dasharray="47.28 62.88"/>
<path d="M967.4 2181.7 L1011.6 2158.3M1063.4 2130.9 L1104.6 2109.1M1256.7 2028.6 L1296.6 2007.4M1366.4 1970.5 L1410.6 1947.1M1435.4 1934 L1475.6 1912.7M1585.4 1854.5 L1629.6 1831.1" stroke="#FF6A05"/>
<path d="M300.3 2534.9 L985 2172.4" stroke="#4496C8" stroke-dasharray="7.34 57.56"/>
<path d="M1227.9 2043.8 L1234.6 2040.3M1341.7 1983.6 L1348.6 1979.9M1457.9 1922 L1460.8 1920.5M1543.4 1876.8 L1552.1 1872.2M1605.4 1843.9 L1611.6 1840.7" stroke="#4496C8"/>
<path d="M300.3 2534.9 L985 2172.4" stroke="#36B00E" stroke-dasharray="58.29 35.34 7.8 35.34"/>
<path d="M1030.4 2148.4 L1079.9 2122.2M1112.9 2104.7 L1118.3 2101.8M1155.4 2082.2 L1200.8 2058.1M1235.4 2039.8 L1239.6 2037.6M1275.4 2018.7 L1320.8 1994.6M1354.2 1977 L1359.6 1974.1M1394.2 1955.8 L1444.6 1929.1M1477.9 1911.5 L1539.6 1878.8M1574.2 1860.5 L1578.3 1858.3M1614.2 1839.3 L1661.4 1814.3" stroke="#36B00E"/>
<path d="M300.3 2525 L307.9 2520.7 L315.4 2516.3 L323 2512 L330.6 2507.7 L338.1 2503.4 L345.7 2499 L353.3 2494.7 L360.8 2490.4 L368.4 2486.1 L375.9 2481.9 L383.5 2477.6 L391.1 2473.3 L398.6 2469.1 L406.2 2464.8 L413.7 2460.6 L421.3 2456.4 L428.9 2452.1 L436.4 2447.9 L444 2443.7 L451.6 2439.5 L459.1 2435.3 L466.7 2431.2 L474.2 2427 L481.8 2422.8 L489.4 2418.7 L496.9 2414.6 L504.5 2410.4 L512 2406.3 L519.6 2402.2 L527.2 2398.1 L534.7 2394 L542.3 2389.9 L549.9 2385.9 L557.4 2381.8 L565 2377.8 L572.5 2373.7 L580.1 2369.7 L587.7 2365.7 L595.2 2361.7 L602.8 2357.7 L610.4 2353.7 L617.9 2349.7 L625.5 2345.8 L633 2341.8 L640.6 2337.9 L648.2 2334 L655.7 2330 L663.3 2326.1 L670.8 2322.2 L678.4 2318.4 L686 2314.5 L693.5 2310.6 L701.1 2306.8 L708.7 2303 L716.2 2299.2 L723.8 2295.3 L731.3 2291.6 L738.9 2287.8 L746.5 2284 L754 2280.3 L761.6 2276.5 L769.1 2272.8 L776.7 2269.1 L784.3 2265.4 L791.8 2261.7 L799.4 2258 L807 2254.4 L814.5 2250.7 L822.1 2247.1 L829.6 2243.5 L837.2 2239.9 L844.8 2236.3 L852.3 2232.7 L859.9 2229.2 L867.4 2225.6 L875 2222.1 L882.6 2218.6 L890.1 2215.1 L897.7 2211.7 L905.3 2208.2 L912.8 2204.8 L920.4 2201.3 L927.9 2197.9 L935.5 2194.5 L943.1 2191.2 L950.6 2187.8 L958.2 2184.5 L965.8 2181.2 L973.3 2177.9 L980.9 2174.6" stroke="#515151" stroke-dasharray="41.31 36.72 7.34 36.72 7.34 36.72"/>
<path d="M980.9 2174.6 L983.1 2173.6 L985.3 2172.7 L987.5 2171.7 L989.7 2170.8 L991.9 2169.8 L994.1 2168.9 L996.4 2167.9 L998.6 2167 L1000.8 2166.1 L1003 2165.1 L1005.2 2164.2 L1007.4 2163.2 L1009.6 2162.3 L1011.9 2161.4 L1014.1 2160.4 L1016.3 2159.5 L1018.5 2158.6 L1020.7 2157.7 L1022.9 2156.7 L1025.1 2155.8 L1027.3 2154.9 L1029.6 2154 L1031.8 2153.1 L1034 2152.1 L1036.2 2151.2 L1038.4 2150.3 L1040.6 2149.4 L1042.8 2148.5 L1045 2147.6 L1047.2 2146.7 L1049.5 2145.8 L1051.7 2144.9 L1053.9 2144 L1056.1 2143.1 L1058.3 2142.2 L1060.5 2141.3 L1062.7 2140.4 L1065 2139.5 L1067.2 2138.6 L1069.4 2137.7 L1071.6 2136.9 L1073.8 2136 L1076 2135.1 L1078.2 2134.2 L1080.4 2133.3 L1082.7 2132.5 L1084.9 2131.6 L1087.1 2130.7 L1089.3 2129.9 L1091.5 2129 L1093.7 2128.1 L1095.9 2127.3 L1098.1 2126.4 L1100.3 2125.6 L1102.6 2124.7 L1104.8 2123.8 L1107 2123 L1109.2 2122.1 L1111.4 2121.3 L1113.6 2120.5 L1115.8 2119.6 L1118 2118.8 L1120.3 2117.9 L1122.5 2117.1 L1124.7 2116.3 L1126.9 2115.4 L1129.1 2114.6 L1131.3 2113.8 L1133.5 2112.9 L1135.8 2112.1 L1138 2111.3 L1140.2 2110.5 L1142.4 2109.7 L1144.6 2108.8 L1146.8 2108 L1149 2107.2 L1151.2 2106.4 L1153.4 2105.6 L1155.7 2104.8 L1157.9 2104 L1160.1 2103.2 L1162.3 2102.4 L1164.5 2101.6 L1166.7 2100.8 L1168.9 2100 L1171.2 2099.3 L1173.4 2098.5 L1175.6 2097.7 L1177.8 2096.9 L1180 2096.1" stroke="#515151" stroke-dasharray="41.31 36.72 7.34 36.72 7.34 36.72" stroke-dashoffset="100.6"/>
<path d="M1196.9 2090.3 L1202.9 2088.2 L1209 2086.2 L1215 2084.2 L1221 2082.2 L1227.1 2080.2 L1233.1 2078.3M1269.4 2067 L1272 2066.2 L1274.6 2065.5M1312.9 2054.6 L1315.8 2053.8 L1318.6 2053.1M1357.9 2043.2 L1364.4 2041.7 L1371 2040.2 L1377.5 2038.7 L1384 2037.3 L1390.6 2036 L1397.1 2034.6M1434.4 2027.9 L1437.5 2027.4 L1440.6 2026.9M1479.4 2021.7 L1485.7 2021.1 L1492 2020.5 L1498.2 2019.9 L1504.5 2019.4 L1510.8 2019 L1517 2018.6 L1523.3 2018.3 L1529.6 2018.1M1567.9 2018.1 L1571.2 2018.3 L1574.6 2018.4M1611.9 2022 L1615.2 2022.5 L1618.6 2023.1M1655.4 2031.3 L1658 2032.1 L1660.6 2032.9" stroke="#515151"/>
<path d="M300.3 2513.5 L307.9 2508.8 L315.4 2504 L323 2499.3 L330.6 2494.6 L338.1 2489.9 L345.7 2485.2 L353.3 2480.6 L360.8 2475.9 L368.4 2471.3 L375.9 2466.7 L383.5 2462.2 L391.1 2457.6 L398.6 2453.1 L406.2 2448.5 L413.7 2444 L421.3 2439.6 L428.9 2435.1 L436.4 2430.7 L444 2426.2 L451.6 2421.8 L459.1 2417.4 L466.7 2413.1 L474.2 2408.7 L481.8 2404.4 L489.4 2400.1 L496.9 2395.8 L504.5 2391.6 L512 2387.3 L519.6 2383.1 L527.2 2378.9 L534.7 2374.8 L542.3 2370.6 L549.9 2366.5 L557.4 2362.4 L565 2358.3 L572.5 2354.2 L580.1 2350.2 L587.7 2346.2 L595.2 2342.2 L602.8 2338.2 L610.4 2334.3 L617.9 2330.3 L625.5 2326.5 L633 2322.6 L640.6 2318.7 L648.2 2314.9 L655.7 2311.1 L663.3 2307.3 L670.8 2303.6 L678.4 2299.8 L686 2296.1 L693.5 2292.5 L701.1 2288.8 L708.7 2285.2 L716.2 2281.6 L723.8 2278 L731.3 2274.5 L738.9 2271 L746.5 2267.5 L754 2264 L761.6 2260.6 L769.1 2257.2 L776.7 2253.8 L784.3 2250.5 L791.8 2247.2 L799.4 2243.9 L807 2240.6 L814.5 2237.4 L822.1 2234.2 L829.6 2231 L837.2 2227.9 L844.8 2224.8 L852.3 2221.7 L859.9 2218.7 L867.4 2215.7 L875 2212.7 L882.6 2209.7 L890.1 2206.8 L897.7 2203.9 L905.3 2201.1 L912.8 2198.3 L920.4 2195.5 L927.9 2192.8 L935.5 2190.1 L943.1 2187.4 L950.6 2184.8 L958.2 2182.2 L965.8 2179.6 L973.3 2177.1 L980.9 2174.6" stroke="#FD4141" stroke-dasharray="18.82 30.75"/>
<path d="M980.9 2174.6 L988.4 2172.2 L996 2169.7 L1003.6 2167.4 L1011.1 2165.1 L1018.7 2162.8 L1026.2 2160.5 L1033.8 2158.3 L1041.4 2156.1 L1048.9 2154 L1056.5 2151.9 L1064.1 2149.9 L1071.6 2147.9 L1079.2 2146 L1086.7 2144.1 L1094.3 2142.2 L1101.9 2140.4 L1109.4 2138.6 L1117 2136.9 L1124.5 2135.3 L1132.1 2133.6 L1139.7 2132.1 L1147.2 2130.6 L1154.8 2129.1 L1162.4 2127.7 L1169.9 2126.3 L1177.5 2125 L1185 2123.7 L1192.6 2122.6 L1200.2 2121.4 L1207.7 2120.3 L1215.3 2119.3 L1222.9 2118.3 L1230.4 2117.4 L1238 2116.6 L1245.5 2115.8 L1253.1 2115.1 L1260.7 2114.4 L1268.2 2113.8 L1275.8 2113.3 L1283.3 2112.8 L1290.9 2112.4 L1298.5 2112.1 L1306 2111.9 L1313.6 2111.7 L1321.2 2111.6 L1328.7 2111.6 L1336.3 2111.6 L1343.8 2111.8 L1351.4 2112 L1359 2112.3 L1366.5 2112.6 L1374.1 2113.1 L1381.6 2113.6 L1389.2 2114.3 L1396.8 2115 L1404.3 2115.8 L1411.9 2116.8 L1419.5 2117.8 L1427 2118.9 L1434.6 2120.1 L1442.1 2121.5 L1449.7 2122.9 L1457.3 2124.5 L1464.8 2126.1 L1472.4 2127.9 L1479.9 2129.8 L1487.5 2131.8 L1495.1 2134 L1502.6 2136.3 L1510.2 2138.7 L1517.8 2141.3 L1525.3 2144 L1532.9 2146.8 L1540.4 2149.8 L1548 2153 L1555.6 2156.4 L1563.1 2159.9 L1570.7 2163.6 L1578.3 2167.4 L1585.8 2171.5 L1593.4 2175.8 L1600.9 2180.3 L1608.5 2185 L1616.1 2189.9 L1623.6 2195 L1631.2 2200.5 L1638.7 2206.1 L1646.3 2212.1 L1653.9 2218.4 L1661.4 2224.9" stroke="#FD4141" stroke-dasharray="18.82 30.75" stroke-dashoffset="28.6"/>
<path d="M300.3 2521.2 L307.9 2516.7 L315.4 2512.2 L323 2507.7 L330.6 2503.3 L338.1 2498.8 L345.7 2494.4 L353.3 2490 L360.8 2485.6 L368.4 2481.2 L375.9 2476.8 L383.5 2472.4 L391.1 2468 L398.6 2463.7 L406.2 2459.3 L413.7 2455 L421.3 2450.7 L428.9 2446.4 L436.4 2442.1 L444 2437.8 L451.6 2433.5 L459.1 2429.3 L466.7 2425 L474.2 2420.8 L481.8 2416.6 L489.4 2412.4 L496.9 2408.2 L504.5 2404 L512 2399.9 L519.6 2395.7 L527.2 2391.6 L534.7 2387.4 L542.3 2383.3 L549.9 2379.2 L557.4 2375.2 L565 2371.1 L572.5 2367.1 L580.1 2363 L587.7 2359 L595.2 2355 L602.8 2351 L610.4 2347 L617.9 2343.1 L625.5 2339.1 L633 2335.2 L640.6 2331.3 L648.2 2327.4 L655.7 2323.5 L663.3 2319.6 L670.8 2315.8 L678.4 2312 L686 2308.2 L693.5 2304.4 L701.1 2300.6 L708.7 2296.8 L716.2 2293.1 L723.8 2289.3 L731.3 2285.6 L738.9 2281.9 L746.5 2278.3 L754 2274.6 L761.6 2271 L769.1 2267.4 L776.7 2263.8 L784.3 2260.2 L791.8 2256.6 L799.4 2253.1 L807 2249.5 L814.5 2246 L822.1 2242.6 L829.6 2239.1 L837.2 2235.7 L844.8 2232.2 L852.3 2228.8 L859.9 2225.5 L867.4 2222.1 L875 2218.8 L882.6 2215.5 L890.1 2212.2 L897.7 2208.9 L905.3 2205.7 L912.8 2202.5 L920.4 2199.3 L927.9 2196.1 L935.5 2193 L943.1 2189.8 L950.6 2186.7 L958.2 2183.7 L965.8 2180.6 L973.3 2177.6 L980.9 2174.6" stroke="#0868B6" stroke-dasharray="0.01 21.9"/>
<path d="M980.9 2174.6 L988.4 2171.6 L996 2168.7 L1003.6 2165.8 L1011.1 2162.9 L1018.7 2160 L1026.2 2157.2 L1033.8 2154.4 L1041.4 2151.6 L1048.9 2148.9 L1056.5 2146.2 L1064.1 2143.5 L1071.6 2140.9 L1079.2 2138.2 L1086.7 2135.6 L1094.3 2133.1 L1101.9 2130.6 L1109.4 2128.1 L1117 2125.6 L1124.5 2123.2 L1132.1 2120.8 L1139.7 2118.5 L1147.2 2116.2 L1154.8 2113.9 L1162.4 2111.7 L1169.9 2109.5 L1177.5 2107.3 L1185 2105.2 L1192.6 2103.1 L1200.2 2101.1 L1207.7 2099.1 L1215.3 2097.1 L1222.9 2095.2 L1230.4 2093.4 L1238 2091.5 L1245.5 2089.8 L1253.1 2088 L1260.7 2086.4 L1268.2 2084.7 L1275.8 2083.1 L1283.3 2081.6 L1290.9 2080.1 L1298.5 2078.7 L1306 2077.3 L1313.6 2076 L1321.2 2074.8 L1328.7 2073.6 L1336.3 2072.4 L1343.8 2071.3 L1351.4 2070.3 L1359 2069.4 L1366.5 2068.5 L1374.1 2067.7 L1381.6 2066.9 L1389.2 2066.2 L1396.8 2065.6 L1404.3 2065.1 L1411.9 2064.6 L1419.5 2064.2 L1427 2063.9 L1434.6 2063.7 L1442.1 2063.6 L1449.7 2063.5 L1457.3 2063.6 L1464.8 2063.7 L1472.4 2063.9 L1479.9 2064.3 L1487.5 2064.7 L1495.1 2065.2 L1502.6 2065.9 L1510.2 2066.7 L1517.8 2067.5 L1525.3 2068.5 L1532.9 2069.7 L1540.4 2070.9 L1548 2072.3 L1555.6 2073.9 L1563.1 2075.6 L1570.7 2077.4 L1578.3 2079.5 L1585.8 2081.6 L1593.4 2084 L1600.9 2086.6 L1608.5 2089.3 L1616.1 2092.3 L1623.6 2095.5 L1631.2 2098.9 L1638.7 2102.5 L1646.3 2106.4 L1653.9 2110.6 L1661.4 2115.1" stroke="#0868B6" stroke-dasharray="0.01 21.9" stroke-dashoffset="4.6"/>
<path d="M300.3 2501.8 L308.8 2496 L317.3 2490.2 L325.8 2484.5 L334.3 2478.8 L342.9 2473.2 L351.4 2467.5 L359.9 2462 L368.4 2456.4 L376.9 2450.9 L385.4 2445.5 L393.9 2440.1 L402.4 2434.7 L410.9 2429.3 L419.4 2424 L427.9 2418.7 L436.4 2413.5 L444.9 2408.3 L453.4 2403.2 L462 2398.1 L470.5 2393 L479 2388 L487.5 2383 L496 2378 L504.5 2373.1 L513 2368.3 L521.5 2363.5 L530 2358.7 L538.5 2353.9 L547 2349.3 L555.5 2344.6 L564 2340 L572.5 2335.4 L581 2330.9 L589.6 2326.4 L598.1 2322 L606.6 2317.6 L615.1 2313.3 L623.6 2309 L632.1 2304.7 L640.6 2300.5 L649.1 2296.4 L657.6 2292.3 L666.1 2288.2 L674.6 2284.2 L683.1 2280.2 L691.6 2276.3 L700.1 2272.4 L708.7 2268.6 L717.2 2264.8 L725.7 2261.1 L734.2 2257.4 L742.7 2253.8 L751.2 2250.2 L759.7 2246.7 L768.2 2243.2 L776.7 2239.8 L785.2 2236.5 L793.7 2233.1 L802.2 2229.9 L810.7 2226.7 L819.2 2223.5 L827.8 2220.4 L836.3 2217.4 L844.8 2214.4 L853.3 2211.5 L861.8 2208.6 L870.3 2205.8 L878.8 2203 L887.3 2200.3 L895.8 2197.7 L904.3 2195.1 L912.8 2192.6 L921.3 2190.1 L929.8 2187.7 L938.3 2185.4 L946.8 2183.1 L955.4 2180.9 L963.9 2178.7 L972.4 2176.6 L980.9 2174.6 L989.4 2172.6 L997.9 2170.7 L1006.4 2168.9 L1014.9 2167.2 L1023.4 2165.5 L1031.9 2163.8 L1040.4 2162.3 L1048.9 2160.8 L1057.4 2159.4 L1065.9 2158 L1074.5 2156.8 L1083 2155.6 L1091.5 2154.4 L1100 2153.4 L1108.5 2152.4 L1117 2151.5 L1125.5 2150.7 L1134 2149.9 L1142.5 2149.3 L1151 2148.7 L1159.5 2148.2 L1168 2147.8 L1176.5 2147.4 L1185 2147.2 L1193.5 2147 L1202.1 2146.9 L1210.6 2146.9 L1219.1 2147 L1227.6 2147.2 L1236.1 2147.5 L1244.6 2147.9 L1253.1 2148.3 L1261.6 2148.9 L1270.1 2149.5 L1278.6 2150.3 L1287.1 2151.1 L1295.6 2152.1 L1304.1 2153.2 L1312.6 2154.3 L1321.2 2155.6 L1329.7 2157 L1338.2 2158.5 L1346.7 2160.1 L1355.2 2161.8 L1363.7 2163.6 L1372.2 2165.6 L1380.7 2167.6 L1389.2 2169.8 L1397.7 2172.2 L1406.2 2174.6 L1414.7 2177.2 L1423.2 2179.9 L1431.7 2182.7 L1440.2 2185.7 L1448.8 2188.8 L1457.3 2192.1 L1465.8 2195.5 L1474.3 2199.1 L1482.8 2202.8 L1491.3 2206.7 L1499.8 2210.7 L1508.3 2214.9 L1516.8 2219.3 L1525.3 2223.9 L1533.8 2228.6 L1542.3 2233.5 L1550.8 2238.6 L1559.3 2243.9 L1567.9 2249.5 L1576.4 2255.2 L1584.9 2261.1 L1593.4 2267.3 L1601.9 2273.7 L1610.4 2280.3 L1618.9 2287.2 L1627.4 2294.3 L1635.9 2301.8 L1644.4 2309.5 L1652.9 2317.5 L1661.4 2325.8" stroke="#00A568" stroke-dasharray="33.51 26.39 0.01 26.39" stroke-width="8.4"/>
<path d="M300.3 2501.8 L308.8 2496 L317.3 2490.2 L325.8 2484.5 L334.3 2478.8 L342.9 2473.2 L351.4 2467.5 L359.9 2462 L368.4 2456.4 L376.9 2450.9 L385.4 2445.5 L393.9 2440.1 L402.4 2434.7 L410.9 2429.3 L419.4 2424 L427.9 2418.7 L436.4 2413.5 L444.9 2408.3 L453.4 2403.2 L462 2398.1 L470.5 2393 L479 2388 L487.5 2383 L496 2378 L504.5 2373.1 L513 2368.3 L521.5 2363.5 L530 2358.7 L538.5 2353.9 L547 2349.3 L555.5 2344.6 L564 2340 L572.5 2335.4 L581 2330.9 L589.6 2326.4 L598.1 2322 L606.6 2317.6 L615.1 2313.3 L623.6 2309 L632.1 2304.7 L640.6 2300.5 L649.1 2296.4 L657.6 2292.3 L666.1 2288.2 L674.6 2284.2 L683.1 2280.2 L691.6 2276.3 L700.1 2272.4 L708.7 2268.6 L717.2 2264.8 L725.7 2261.1 L734.2 2257.4 L742.7 2253.8 L751.2 2250.2 L759.7 2246.7 L768.2 2243.2 L776.7 2239.8 L785.2 2236.5 L793.7 2233.1 L802.2 2229.9 L810.7 2226.7 L819.2 2223.5 L827.8 2220.4 L836.3 2217.4 L844.8 2214.4 L853.3 2211.5 L861.8 2208.6 L870.3 2205.8 L878.8 2203 L887.3 2200.3 L895.8 2197.7 L904.3 2195.1 L912.8 2192.6 L921.3 2190.1 L929.8 2187.7 L938.3 2185.4 L946.8 2183.1 L955.4 2180.9 L963.9 2178.7 L972.4 2176.6 L980.9 2174.6 L989.4 2172.6 L997.9 2170.7 L1006.4 2168.9 L1014.9 2167.2 L1023.4 2165.5 L1031.9 2163.8 L1040.4 2162.3 L1048.9 2160.8 L1057.4 2159.4 L1065.9 2158 L1074.5 2156.8 L1083 2155.6 L1091.5 2154.4 L1100 2153.4 L1108.5 2152.4 L1117 2151.5 L1125.5 2150.7 L1134 2149.9 L1142.5 2149.3 L1151 2148.7 L1159.5 2148.2 L1168 2147.8 L1176.5 2147.4 L1185 2147.2 L1193.5 2147 L1202.1 2146.9 L1210.6 2146.9 L1219.1 2147 L1227.6 2147.2 L1236.1 2147.5 L1244.6 2147.9 L1253.1 2148.3 L1261.6 2148.9 L1270.1 2149.5 L1278.6 2150.3 L1287.1 2151.1 L1295.6 2152.1 L1304.1 2153.2 L1312.6 2154.3 L1321.2 2155.6 L1329.7 2157 L1338.2 2158.5 L1346.7 2160.1 L1355.2 2161.8 L1363.7 2163.6 L1372.2 2165.6 L1380.7 2167.6 L1389.2 2169.8 L1397.7 2172.2 L1406.2 2174.6 L1414.7 2177.2 L1423.2 2179.9 L1431.7 2182.7 L1440.2 2185.7 L1448.8 2188.8 L1457.3 2192.1 L1465.8 2195.5 L1474.3 2199.1 L1482.8 2202.8 L1491.3 2206.7 L1499.8 2210.7 L1508.3 2214.9 L1516.8 2219.3 L1525.3 2223.9 L1533.8 2228.6 L1542.3 2233.5 L1550.8 2238.6 L1559.3 2243.9 L1567.9 2249.5 L1576.4 2255.2 L1584.9 2261.1 L1593.4 2267.3 L1601.9 2273.7 L1610.4 2280.3 L1618.9 2287.2 L1627.4 2294.3 L1635.9 2301.8 L1644.4 2309.5 L1652.9 2317.5 L1661.4 2325.8" stroke="#A676B8"/>
<path d="M300.3 2501.8 L307.9 2496.6 L315.4 2491.5 L323 2486.4 L330.6 2481.3 L338.1 2476.3 L345.7 2471.3 L353.3 2466.3 L360.8 2461.4 L368.4 2456.4 L375.9 2451.5 L383.5 2446.7 L391.1 2441.9 L398.6 2437.1 L406.2 2432.3 L413.7 2427.5 L421.3 2422.8 L428.9 2418.2 L436.4 2413.5 L444 2408.9 L451.6 2404.3 L459.1 2399.8 L466.7 2395.3 L474.2 2390.8 L481.8 2386.3 L489.4 2381.9 L496.9 2377.5 L504.5 2373.1 L512 2368.8 L519.6 2364.5 L527.2 2360.3 L534.7 2356 L542.3 2351.9 L549.9 2347.7 L557.4 2343.6 L565 2339.5 L572.5 2335.4 L580.1 2331.4 L587.7 2327.4 L595.2 2323.5 L602.8 2319.6 L610.4 2315.7 L617.9 2311.8 L625.5 2308 L633 2304.3 L640.6 2300.5 L648.2 2296.8 L655.7 2293.2 L663.3 2289.5 L670.8 2286 L678.4 2282.4 L686 2278.9 L693.5 2275.4 L701.1 2272 L708.7 2268.6 L716.2 2265.2 L723.8 2261.9 L731.3 2258.7 L738.9 2255.4 L746.5 2252.2 L754 2249.1 L761.6 2245.9 L769.1 2242.9 L776.7 2239.8 L784.3 2236.8 L791.8 2233.9 L799.4 2231 L807 2228.1 L814.5 2225.3 L822.1 2222.5 L829.6 2219.8 L837.2 2217.1 L844.8 2214.4 L852.3 2211.8 L859.9 2209.2 L867.4 2206.7 L875 2204.2 L882.6 2201.8 L890.1 2199.4 L897.7 2197.1 L905.3 2194.8 L912.8 2192.6 L920.4 2190.4 L927.9 2188.2 L935.5 2186.1 L943.1 2184.1 L950.6 2182.1 L958.2 2180.1 L965.8 2178.2 L973.3 2176.4 L980.9 2174.6" stroke="#D39705" stroke-dasharray="47.28 62.88"/>
<path d="M980.9 2174.6 L981.9 2174.4 L983 2174.1 L984 2173.9 L985.1 2173.6 L986.1 2173.4 L987.1 2173.1 L988.2 2172.9 L989.2 2172.7 L990.3 2172.4 L991.3 2172.2 L992.4 2172 L993.4 2171.7 L994.5 2171.5 L995.5 2171.3 L996.6 2171 L997.6 2170.8 L998.7 2170.6 L999.7 2170.3 L1000.7 2170.1 L1001.8 2169.9 L1002.8 2169.7 L1003.9 2169.4 L1004.9 2169.2 L1006 2169 L1007 2168.8 L1008.1 2168.6 L1009.1 2168.3 L1010.2 2168.1 L1011.2 2167.9 L1012.2 2167.7 L1013.3 2167.5 L1014.3 2167.3 L1015.4 2167.1 L1016.4 2166.8 L1017.5 2166.6 L1018.5 2166.4 L1019.6 2166.2 L1020.6 2166 L1021.7 2165.8 L1022.7 2165.6 L1023.8 2165.4 L1024.8 2165.2 L1025.8 2165 L1026.9 2164.8 L1027.9 2164.6 L1029 2164.4 L1030 2164.2 L1031.1 2164 L1032.1 2163.8 L1033.2 2163.6 L1034.2 2163.4 L1035.3 2163.2 L1036.3 2163 L1037.4 2162.8 L1038.4 2162.6 L1039.4 2162.4 L1040.5 2162.3 L1041.5 2162.1 L1042.6 2161.9 L1043.6 2161.7 L1044.7 2161.5 L1045.7 2161.3 L1046.8 2161.2 L1047.8 2161 L1048.9 2160.8 L1049.9 2160.6 L1050.9 2160.4 L1052 2160.3 L1053 2160.1 L1054.1 2159.9 L1055.1 2159.7 L1056.2 2159.6 L1057.2 2159.4 L1058.3 2159.2 L1059.3 2159.1 L1060.4 2158.9 L1061.4 2158.7 L1062.4 2158.6 L1063.5 2158.4 L1064.5 2158.2 L1065.6 2158.1 L1066.6 2157.9 L1067.7 2157.8 L1068.7 2157.6 L1069.8 2157.4 L1070.8 2157.3 L1071.9 2157.1 L1072.9 2157 L1074 2156.8 L1075 2156.7" stroke="#D39705" stroke-dasharray="47.28 62.88" stroke-dashoffset="103.9"/>
<path d="M1095.4 2153.9 L1101.7 2153.2 L1108 2152.4 L1114.3 2151.8 L1120.7 2151.1 L1127 2150.5 L1133.3 2150 L1139.6 2149.5M1205.4 2146.9 L1211.6 2146.9 L1217.7 2147 L1223.9 2147.1 L1230.1 2147.3 L1236.3 2147.5 L1242.4 2147.8 L1248.6 2148.1M1313.9 2154.5 L1320.1 2155.4 L1326.2 2156.4 L1332.4 2157.5 L1338.6 2158.5 L1344.8 2159.7 L1350.9 2160.9 L1357.1 2162.2M1417.9 2178.2 L1424.4 2180.3 L1431 2182.5 L1437.5 2184.7 L1444 2187.1 L1450.6 2189.5 L1457.1 2192M1490.4 2206.3 L1496.9 2209.3 L1503.5 2212.5 L1510 2215.8 L1516.5 2219.2 L1523.1 2222.6 L1529.6 2226.2M1581.4 2258.7 L1588.2 2263.5 L1595.1 2268.5 L1601.9 2273.7 L1608.8 2279 L1615.6 2284.5" stroke="#D39705"/>
<path d="M298.6 2542 C300.8 2541.8 307.3 2542.2 311.4 2540.8 C315.5 2539.3 319 2535.3 323.1 2533.2 C327.3 2531.2 332 2529.9 336.4 2528.2 C340.8 2526.6 344.9 2525 349.4 2523.2 C353.9 2521.5 358.9 2520.1 363.6 2517.8 C368.4 2515.4 373.4 2510.5 378.1 2509 C382.9 2507.5 387 2509.6 391.9 2508.8 C396.8 2507.9 402.6 2505.4 407.6 2503.8 C412.7 2502.1 417.4 2500.6 422.4 2499 C427.4 2497.4 432.5 2495.2 437.6 2494 C442.8 2492.8 448 2492.2 453.1 2491.5 C458.3 2490.8 463.4 2490.6 468.6 2489.5 C473.9 2488.4 479.2 2486.3 484.4 2485 C489.6 2483.7 494.7 2482.7 499.9 2481.5 C505.1 2480.3 510.4 2478.8 515.6 2477.8 C520.9 2476.7 525.8 2476.8 531.1 2475 C536.5 2473.2 542.2 2468.8 547.6 2467 C553.1 2465.2 558.2 2466.7 563.6 2464.5 C569.1 2462.3 574.6 2456.5 580.1 2454 C585.7 2451.5 591.2 2451.6 596.9 2449.5 C602.6 2447.4 608.6 2444.7 614.4 2441.5 C620.2 2438.3 625.9 2434.2 631.9 2430.5 C637.9 2426.8 644.1 2422.9 650.4 2419.5 C656.6 2416.1 662.8 2414.4 669.4 2410 C676 2405.6 683.1 2396.9 689.9 2393.2 C696.7 2389.6 703.2 2392.1 710.1 2388.2 C717.1 2384.4 724.1 2376 731.4 2370 C738.6 2364 746.1 2358.4 753.6 2352.5 C761.1 2346.6 768.4 2340.3 776.4 2334.5 C784.4 2328.7 793 2324 801.4 2317.8 C809.8 2311.5 818.1 2305.2 826.9 2297 C835.7 2288.8 845.1 2275.3 854.4 2268.2 C863.6 2261.2 872.7 2261.7 882.4 2254.5 C892.1 2247.3 902.3 2234.3 912.4 2225.2 C922.5 2216.2 932.7 2208.8 943.1 2200.2 C953.6 2191.7 964.3 2184.8 975.1 2174 C986 2163.2 996.8 2144.2 1008.4 2135.5 C1020 2126.8 1032.7 2132 1044.9 2122 C1057.2 2112 1069.1 2088.6 1081.9 2075.8 C1094.7 2062.9 1108.4 2056.4 1121.9 2045 C1135.4 2033.6 1148.8 2019.6 1162.7 2007.5 C1176.5 1995.4 1190.3 1983.1 1204.9 1972.5 C1219.5 1961.9 1235 1956.7 1250.2 1943.8 C1265.3 1930.8 1280 1907.7 1295.7 1895 C1311.3 1882.3 1327.8 1880.1 1344.1 1867.5 C1360.4 1854.9 1376.6 1833.8 1393.4 1819.5 C1410.2 1805.2 1432.5 1790.4 1444.8 1781.6 C1457.1 1772.8 1458.5 1770.4 1467.3 1766.8 C1476.1 1763.2 1484 1766.6 1497.9 1759.8 C1511.8 1753 1532.9 1734.9 1550.8 1726.1 C1568.7 1717.3 1593.8 1711.7 1605.5 1706.9 C1617.2 1702.1 1616.7 1699.9 1621 1697.1 C1625.3 1694.3 1627.9 1691.4 1631.4 1689.9 C1634.9 1688.4 1637 1688.6 1641.8 1688.2 C1646.6 1687.8 1657.3 1687.6 1660.4 1687.5" stroke="#5D44A2"/>
</g>
<g fill="url(#sphB)">
<circle cx="298.6" cy="2542" r="14.8"/>
<circle cx="311.4" cy="2540.8" r="14.8"/>
<circle cx="323.1" cy="2533.2" r="14.8"/>
<circle cx="336.4" cy="2528.2" r="14.8"/>
<circle cx="349.4" cy="2523.2" r="14.8"/>
<circle cx="363.6" cy="2517.8" r="14.8"/>
<circle cx="378.1" cy="2509" r="14.8"/>
<circle cx="391.9" cy="2508.8" r="14.8"/>
<circle cx="407.6" cy="2503.8" r="14.8"/>
<circle cx="422.4" cy="2499" r="14.8"/>
<circle cx="437.6" cy="2494" r="14.8"/>
<circle cx="453.1" cy="2491.5" r="14.8"/>
<circle cx="468.6" cy="2489.5" r="14.8"/>
<circle cx="484.4" cy="2485" r="14.8"/>
<circle cx="499.9" cy="2481.5" r="14.8"/>
<circle cx="515.6" cy="2477.8" r="14.8"/>
<circle cx="531.1" cy="2475" r="14.8"/>
<circle cx="547.6" cy="2467" r="14.8"/>
<circle cx="563.6" cy="2464.5" r="14.8"/>
<circle cx="580.1" cy="2454" r="14.8"/>
<circle cx="596.9" cy="2449.5" r="14.8"/>
<circle cx="614.4" cy="2441.5" r="14.8"/>
<circle cx="631.9" cy="2430.5" r="14.8"/>
<circle cx="650.4" cy="2419.5" r="14.8"/>
<circle cx="669.4" cy="2410" r="14.8"/>
<circle cx="689.9" cy="2393.2" r="14.8"/>
<circle cx="710.1" cy="2388.2" r="14.8"/>
<circle cx="731.4" cy="2370" r="14.8"/>
<circle cx="753.6" cy="2352.5" r="14.8"/>
<circle cx="776.4" cy="2334.5" r="14.8"/>
<circle cx="801.4" cy="2317.8" r="14.8"/>
<circle cx="826.9" cy="2297" r="14.8"/>
<circle cx="854.4" cy="2268.2" r="14.8"/>
<circle cx="882.4" cy="2254.5" r="14.8"/>
<circle cx="912.4" cy="2225.2" r="14.8"/>
<circle cx="943.1" cy="2200.2" r="14.8"/>
<circle cx="975.1" cy="2174" r="14.8"/>
<circle cx="1008.4" cy="2135.5" r="14.8"/>
<circle cx="1044.9" cy="2122" r="14.8"/>
<circle cx="1081.9" cy="2075.8" r="14.8"/>
<circle cx="1121.9" cy="2045" r="14.8"/>
<circle cx="1162.7" cy="2007.5" r="14.8"/>
<circle cx="1204.9" cy="1972.5" r="14.8"/>
<circle cx="1250.2" cy="1943.8" r="14.8"/>
<circle cx="1295.7" cy="1895" r="14.8"/>
<circle cx="1344.1" cy="1867.5" r="14.8"/>
<circle cx="1393.4" cy="1819.5" r="14.8"/>
<circle cx="1444.8" cy="1781.6" r="14.8"/>
<circle cx="1497.9" cy="1759.8" r="14.8"/>
<circle cx="1550.8" cy="1726.1" r="14.8"/>
<circle cx="1605.5" cy="1706.9" r="14.8"/>
<circle cx="1660.4" cy="1687.5" r="14.8"/>
</g>
<g stroke="#000" stroke-width="7.5" fill="none">
<rect x="215.2" y="1499" width="1531.2" height="1126"/>
<path d="M300.3 2625 V2603M470.5 2625 V2603M640.6 2625 V2603M810.7 2625 V2603M980.9 2625 V2603M1151 2625 V2603M1321.2 2625 V2603M1491.3 2625 V2603M1661.4 2625 V2603M385.4 2625 V2614M555.5 2625 V2614M725.7 2625 V2614M895.8 2625 V2614M1065.9 2625 V2614M1236.1 2625 V2614M1406.2 2625 V2614M1576.4 2625 V2614M215.2 2399.8 H237.2M215.2 2174.6 H237.2M215.2 1949.4 H237.2M215.2 1724.2 H237.2M215.2 2512.4 H226.2M215.2 2287.2 H226.2M215.2 2062 H226.2M215.2 1836.8 H226.2M215.2 1611.6 H226.2"/>
</g>
<g font-size="59.3" text-anchor="middle">
<text x="299.3" y="2695.5">0.1</text>
<text x="469.5" y="2695.5">0.2</text>
<text x="639.6" y="2695.5">0.3</text>
<text x="809.7" y="2695.5">0.4</text>
<text x="979.9" y="2695.5">0.5</text>
<text x="1150" y="2695.5">0.6</text>
<text x="1320.2" y="2695.5">0.7</text>
<text x="1490.3" y="2695.5">0.8</text>
<text x="1660.4" y="2695.5">0.9</text>
</g>
<g font-size="59.3" text-anchor="end">
<text x="190.5" y="2643">0.0</text>
<text x="190.5" y="2417.8">0.5</text>
<text x="190.5" y="2192.6">1.0</text>
<text x="190.5" y="1967.4">1.5</text>
<text x="190.5" y="1742.2">2.0</text>
<text x="190.5" y="1517">2.5</text>
</g>
<text font-size="58.1" text-anchor="middle" x="980.9" y="2768.3">Conversion α</text>
<text font-size="58.1" text-anchor="middle" transform="translate(93.8 2062) rotate(-90)">Z(α)/Z(0.5)</text>
<text font-size="56.9" letter-spacing="1.3" x="28.5" y="1482.5">(b)</text>
<g fill="none" stroke-linecap="round" stroke-width="10.8">
<path d="M236.9 1542.5H353.1" stroke="#515151"/>
<path d="M452.9 1542.5H569.1" stroke="#FD4141" stroke-dasharray="47.28 62.88"/>
<path d="M643.9 1542.5H760.1" stroke="#0868B6" stroke-dasharray="7.34 57.56"/>
<path d="M236.9 1615.3H353.1" stroke="#00A568" stroke-dasharray="58.29 35.34 7.8 35.34"/>
<path d="M452.9 1615.3H569.1" stroke="#A676B8" stroke-dasharray="41.31 36.72 7.34 36.72 7.34 36.72"/>
<path d="M643.9 1615.3H760.1" stroke="#D39705" stroke-dasharray="18.82 30.75"/>
<path d="M826.9 1615.3H943.1" stroke="#06BCC0" stroke-dasharray="0.01 21.9"/>
<path d="M236.9 1688.5H353.1" stroke="#864B4E" stroke-dasharray="33.51 26.39 0.01 26.39"/>
<path d="M452.9 1688.5H569.1" stroke="#8B8B14"/>
<path d="M643.9 1688.5H760.1" stroke="#FF6A05" stroke-dasharray="47.28 62.88"/>
<path d="M826.9 1688.5H943.1" stroke="#4496C8" stroke-dasharray="7.34 57.56"/>
<path d="M236.9 1761.7H353.1" stroke="#36B00E" stroke-dasharray="58.29 35.34 7.8 35.34"/>
<path d="M452.9 1761.7H569.1" stroke="#515151" stroke-dasharray="41.31 36.72 7.34 36.72 7.34 36.72"/>
<path d="M643.9 1761.7H760.1" stroke="#FD4141" stroke-dasharray="18.82 30.75"/>
<path d="M826.9 1761.7H943.1" stroke="#0868B6" stroke-dasharray="0.01 21.9"/>
<path d="M236.9 1835.3H353.1" stroke="#00A568" stroke-dasharray="33.51 26.39 0.01 26.39"/>
<path d="M452.9 1835.3H569.1" stroke="#A676B8"/>
<path d="M643.9 1835.3H760.1" stroke="#D39705" stroke-dasharray="47.28 62.88"/>
<path d="M826.9 1835.3H943.1" stroke="#5D44A2"/>
</g>
<circle cx="885" cy="1835.3" r="14.8" fill="url(#sphB)"/>
<g font-size="31.2">
<text x="362.5" y="1563">R1</text>
<text x="578.5" y="1563">R2</text>
<text x="769.5" y="1563">R3</text>
<text x="362.5" y="1635.8">F1</text>
<text x="578.5" y="1635.8">F1.5</text>
<text x="769.5" y="1635.8">F2</text>
<text x="952.5" y="1635.8">F3</text>
<text x="362.5" y="1709">P2/3</text>
<text x="578.5" y="1709">P2</text>
<text x="769.5" y="1709">P3</text>
<text x="952.5" y="1709">P4</text>
<text x="362.5" y="1782.2">D1</text>
<text x="578.5" y="1782.2">D2</text>
<text x="769.5" y="1782.2">D3</text>
<text x="952.5" y="1782.2">D4</text>
<text x="362.5" y="1855.8">A2</text>
<text x="578.5" y="1855.8">A3</text>
<text x="769.5" y="1855.8">A4</text>
<text x="952.5" y="1855.8">WCO - Biodiesel</text>
</g>
</g>
</svg></body></html>
